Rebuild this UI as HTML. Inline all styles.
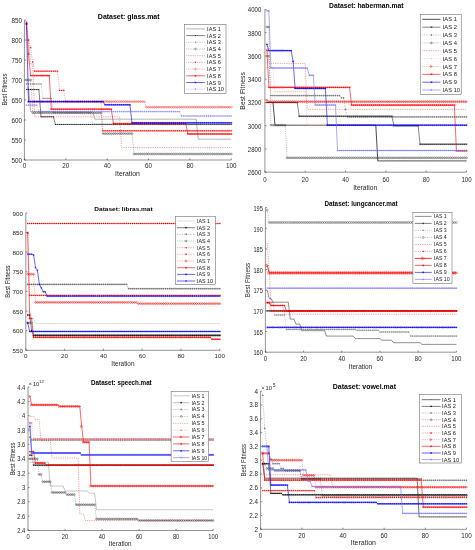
<!DOCTYPE html>
<html><head><meta charset="utf-8"><title>IAS convergence</title>
<style>
html,body{margin:0;padding:0;background:#fff;}
svg{display:block;font-family:"Liberation Sans",sans-serif;}
</style></head>
<body>
<svg width="475" height="550" viewBox="0 0 475 550">
<rect width="475" height="550" fill="#fff"/>
<defs><filter id="bl" x="0" y="0" width="475" height="550" filterUnits="userSpaceOnUse"><feGaussianBlur stdDeviation="0.35"/></filter><marker id="m0" markerUnits="userSpaceOnUse" markerWidth="4.8" markerHeight="4.8" viewBox="-2.4 -2.4 4.8 4.8" refX="0" refY="0" overflow="visible"><circle cx="0" cy="0" r="0.52" fill="#000000"/></marker><marker id="m1" markerUnits="userSpaceOnUse" markerWidth="5.2" markerHeight="5.2" viewBox="-2.6 -2.6 5.2 5.2" refX="0" refY="0" overflow="visible"><path d="M-0.8 0H0.8M0 -0.8V0.8" stroke="#606060" stroke-width="0.45"/></marker><marker id="m2" markerUnits="userSpaceOnUse" markerWidth="5.6" markerHeight="5.6" viewBox="-2.8 -2.8 5.6 5.6" refX="0" refY="0" overflow="visible"><circle cx="0" cy="0" r="0.9" fill="none" stroke="#383838" stroke-width="0.45"/></marker><marker id="m3" markerUnits="userSpaceOnUse" markerWidth="5.2" markerHeight="5.2" viewBox="-2.6 -2.6 5.2 5.2" refX="0" refY="0" overflow="visible"><path d="M-0.8 0H0.8M0 -0.8V0.8M-0.56 -0.56L0.56 0.56M-0.56 0.56L0.56 -0.56" stroke="#ff0000" stroke-width="0.45"/></marker><marker id="m4" markerUnits="userSpaceOnUse" markerWidth="5.6" markerHeight="5.6" viewBox="-2.8 -2.8 5.6 5.6" refX="0" refY="0" overflow="visible"><circle cx="0" cy="0" r="0.9" fill="none" stroke="#ff3030" stroke-width="0.45"/></marker><marker id="m5" markerUnits="userSpaceOnUse" markerWidth="5.6" markerHeight="5.6" viewBox="-2.8 -2.8 5.6 5.6" refX="0" refY="0" overflow="visible"><path d="M-0.9 0H0.9M0 -0.9V0.9M-0.63 -0.63L0.63 0.63M-0.63 0.63L0.63 -0.63" stroke="#ff0000" stroke-width="0.45"/></marker><marker id="m6" markerUnits="userSpaceOnUse" markerWidth="5.6" markerHeight="5.6" viewBox="-2.8 -2.8 5.6 5.6" refX="0" refY="0" overflow="visible"><path d="M-0.9 0H0.9M0 -0.9V0.9M-0.63 -0.63L0.63 0.63M-0.63 0.63L0.63 -0.63" stroke="#0000ff" stroke-width="0.45"/></marker><marker id="m7" markerUnits="userSpaceOnUse" markerWidth="5.6" markerHeight="5.6" viewBox="-2.8 -2.8 5.6 5.6" refX="0" refY="0" overflow="visible"><path d="M-0.9 0H0.9M0 -0.9V0.9" stroke="#7070ff" stroke-width="0.45"/></marker><marker id="m8" markerUnits="userSpaceOnUse" markerWidth="5.6" markerHeight="5.6" viewBox="-2.8 -2.8 5.6 5.6" refX="0" refY="0" overflow="visible"><path d="M-0.9 0H0.9M0 -0.9V0.9M-0.63 -0.63L0.63 0.63M-0.63 0.63L0.63 -0.63" stroke="#333333" stroke-width="0.45"/></marker><marker id="m9" markerUnits="userSpaceOnUse" markerWidth="5.6" markerHeight="5.6" viewBox="-2.8 -2.8 5.6 5.6" refX="0" refY="0" overflow="visible"><path d="M-0.9 0H0.9M0 -0.9V0.9" stroke="#444444" stroke-width="0.45"/></marker><marker id="m10" markerUnits="userSpaceOnUse" markerWidth="4.4" markerHeight="4.4" viewBox="-2.2 -2.2 4.4 4.4" refX="0" refY="0" overflow="visible"><circle cx="0" cy="0" r="0.45" fill="#ff8080"/></marker><marker id="m11" markerUnits="userSpaceOnUse" markerWidth="6" markerHeight="6" viewBox="-3 -3 6 6" refX="0" refY="0" overflow="visible"><path d="M-1 -1L1 0L-1 1Z" fill="none" stroke="#ff0000" stroke-width="0.45"/></marker><marker id="m12" markerUnits="userSpaceOnUse" markerWidth="5.2" markerHeight="5.2" viewBox="-2.6 -2.6 5.2 5.2" refX="0" refY="0" overflow="visible"><path d="M-0.8 0H0.8M0 -0.8V0.8M-0.56 -0.56L0.56 0.56M-0.56 0.56L0.56 -0.56" stroke="#000000" stroke-width="0.45"/></marker><marker id="m13" markerUnits="userSpaceOnUse" markerWidth="5.6" markerHeight="5.6" viewBox="-2.8 -2.8 5.6 5.6" refX="0" refY="0" overflow="visible"><path d="M-0.9 0H0.9M0 -0.9V0.9" stroke="#333333" stroke-width="0.45"/></marker><marker id="m14" markerUnits="userSpaceOnUse" markerWidth="6" markerHeight="6" viewBox="-3 -3 6 6" refX="0" refY="0" overflow="visible"><circle cx="0" cy="0" r="0.75" fill="#ff0000"/></marker><marker id="m15" markerUnits="userSpaceOnUse" markerWidth="5.6" markerHeight="5.6" viewBox="-2.8 -2.8 5.6 5.6" refX="0" refY="0" overflow="visible"><circle cx="0" cy="0" r="0.9" fill="none" stroke="#ff0000" stroke-width="0.45"/></marker><marker id="m16" markerUnits="userSpaceOnUse" markerWidth="5.6" markerHeight="5.6" viewBox="-2.8 -2.8 5.6 5.6" refX="0" refY="0" overflow="visible"><path d="M-0.9 0H0.9M0 -0.9V0.9" stroke="#0000ff" stroke-width="0.45"/></marker><marker id="m17" markerUnits="userSpaceOnUse" markerWidth="5.6" markerHeight="5.6" viewBox="-2.8 -2.8 5.6 5.6" refX="0" refY="0" overflow="visible"><path d="M-0.9 0H0.9M0 -0.9V0.9" stroke="#000000" stroke-width="0.45"/></marker><marker id="m18" markerUnits="userSpaceOnUse" markerWidth="6" markerHeight="6" viewBox="-3 -3 6 6" refX="0" refY="0" overflow="visible"><circle cx="0" cy="0" r="1" fill="none" stroke="#555555" stroke-width="0.45"/></marker><marker id="m19" markerUnits="userSpaceOnUse" markerWidth="7.6" markerHeight="7.6" viewBox="-3.8 -3.8 7.6 7.6" refX="0" refY="0" overflow="visible"><path d="M-1.4 -1.4L1.4 0L-1.4 1.4Z" fill="none" stroke="#ff0000" stroke-width="0.45"/></marker><marker id="m20" markerUnits="userSpaceOnUse" markerWidth="4.8" markerHeight="4.8" viewBox="-2.4 -2.4 4.8 4.8" refX="0" refY="0" overflow="visible"><path d="M-0.7 0H0.7M0 -0.7V0.7M-0.49 -0.49L0.49 0.49M-0.49 0.49L0.49 -0.49" stroke="#ff6060" stroke-width="0.45"/></marker><marker id="m21" markerUnits="userSpaceOnUse" markerWidth="4" markerHeight="4" viewBox="-2 -2 4 4" refX="0" refY="0" overflow="visible"><circle cx="0" cy="0" r="0.38" fill="#333333"/></marker></defs>
<g filter="url(#bl)"><rect width="475" height="550" fill="#fff"/><g><path d="M26.5 88 28.5 88 30.6 111.6 32.7 111.6 34.7 111.6 36.8 111.6 38.9 111.6 41 111.6 43 111.6 45.1 111.6 47.2 111.6 49.2 111.6 51.3 111.6 53.4 111.6 55.4 111.6 57.5 111.6 59.6 111.6 61.6 111.6 63.7 111.6 65.8 111.6 67.8 111.6 69.9 111.6 72 111.6 74.1 111.6 76.1 111.6 78.2 111.6 80.3 111.6 82.3 111.6 84.4 111.6 86.5 111.6 88.5 111.6 90.6 111.6 92.7 111.6 94.7 119.2 96.8 119.2 98.9 119.2 101 119.2 103 119.2 105.1 119.2 107.2 119.2 109.2 119.2 111.3 119.2 113.4 119.2 115.4 119.2 117.5 119.2 119.6 119.2 121.6 119.2 123.7 119.2 125.8 119.2 127.8 119.2 129.9 119.2 132 119.2 134.1 119.2 136.1 119.2 138.2 119.2 140.3 119.2 142.3 119.2 144.4 119.2 146.5 119.2 148.5 119.2 150.6 119.2 152.7 119.2 154.7 119.2 156.8 119.2 158.9 119.2 161 119.2 163 119.2 165.1 119.2 167.2 119.2 169.2 119.2 171.3 119.2 173.4 119.2 175.4 119.2 177.5 119.2 179.6 119.2 181.6 119.2 183.7 119.2 185.8 119.2 187.9 119.2 189.9 119.2 192 119.2 194.1 119.2 196.1 119.2 198.2 139.2 200.3 139.2 202.3 139.2 204.4 139.2 206.5 139.2 208.5 139.2 210.6 139.2 212.7 139.2 214.7 139.2 216.8 139.2 218.9 139.2 221 139.2 223 139.2 225.1 139.2 227.2 139.2 229.2 139.2 231.3 139.2" fill="none" stroke="#a0a0a0" stroke-width="0.8"/><path d="M26.5 89.6 28.5 89.6 30.6 89.6 32.7 89.6 34.7 89.6 36.8 89.6 38.9 89.6 41 116.8 43 116.8 45.1 116.8 47.2 116.8 49.2 116.8 51.3 116.8 53.4 116.8 55.4 124.4 57.5 124.4 59.6 124.4 61.6 124.4 63.7 124.4 65.8 124.4 67.8 124.4 69.9 124.4 72 124.4 74.1 124.4 76.1 124.4 78.2 124.4 80.3 124.4 82.3 124.4 84.4 124.4 86.5 124.4 88.5 124.4 90.6 124.4 92.7 124.4 94.7 124.4 96.8 124.4 98.9 124.4 101 124.4 103 124.4 105.1 124.4 107.2 124.4 109.2 124.4 111.3 124.4 113.4 124.4 115.4 124.4 117.5 124.4 119.6 124.4 121.6 124.4 123.7 124.4 125.8 124.4 127.8 124.4 129.9 124.4 132 124.4 134.1 124.4 136.1 124.4 138.2 124.4 140.3 124.4 142.3 124.4 144.4 124.4 146.5 124.4 148.5 124.4 150.6 124.4 152.7 124.4 154.7 124.4 156.8 124.4 158.9 124.4 161 124.4 163 124.4 165.1 124.4 167.2 124.4 169.2 124.4 171.3 124.4 173.4 124.4 175.4 124.4 177.5 124.4 179.6 124.4 181.6 124.4 183.7 124.4 185.8 124.4 187.9 124.4 189.9 124.4 192 124.4 194.1 124.4 196.1 124.4 198.2 124.4 200.3 124.4 202.3 124.4 204.4 124.4 206.5 124.4 208.5 124.4 210.6 124.4 212.7 124.4 214.7 124.4 216.8 124.4 218.9 124.4 221 124.4 223 124.4 225.1 124.4 227.2 124.4 229.2 124.4 231.3 124.4" fill="none" stroke="#000000" stroke-width="0.5" marker-start="url(#m0)" marker-mid="url(#m0)" marker-end="url(#m0)"/><path d="M26.5 84 28.5 84 30.6 84 32.7 84 34.7 84 36.8 84 38.9 84 41 84 43 98.4 45.1 98.4 47.2 98.4 49.2 98.4 51.3 98.4 53.4 112.8 55.4 112.8 57.5 112.8 59.6 112.8 61.6 112.8 63.7 112.8 65.8 112.8 67.8 112.8 69.9 112.8 72 112.8 74.1 112.8 76.1 112.8 78.2 112.8 80.3 112.8 82.3 112.8 84.4 112.8 86.5 112.8 88.5 112.8 90.6 112.8 92.7 124.4 94.7 124.4 96.8 124.4 98.9 124.4 101 124.4 103 124.4 105.1 124.4 107.2 124.4 109.2 124.4 111.3 124.4 113.4 124.4 115.4 124.4 117.5 124.4 119.6 124.4 121.6 124.4 123.7 124.4 125.8 124.4 127.8 124.4 129.9 124.4 132 124.4 134.1 124.4 136.1 124.4 138.2 124.4 140.3 124.4 142.3 124.4 144.4 124.4 146.5 124.4 148.5 124.4 150.6 124.4 152.7 124.4 154.7 124.4 156.8 124.4 158.9 124.4 161 124.4 163 124.4 165.1 124.4 167.2 124.4 169.2 124.4 171.3 124.4 173.4 124.4 175.4 124.4 177.5 124.4 179.6 124.4 181.6 124.4 183.7 124.4 185.8 124.4 187.9 124.4 189.9 124.4 192 124.4 194.1 124.4 196.1 124.4 198.2 124.4 200.3 124.4 202.3 124.4 204.4 124.4 206.5 124.4 208.5 124.4 210.6 124.4 212.7 124.4 214.7 124.4 216.8 124.4 218.9 124.4 221 124.4 223 124.4 225.1 124.4 227.2 124.4 229.2 124.4 231.3 124.4" fill="none" stroke="#606060" stroke-width="0.5" stroke-dasharray="0.6 1.2" marker-start="url(#m1)" marker-mid="url(#m1)" marker-end="url(#m1)"/><path d="M26.5 80 28.5 80 30.6 80 32.7 112.8 34.7 112.8 36.8 112.8 38.9 112.8 41 112.8 43 112.8 45.1 112.8 47.2 112.8 49.2 112.8 51.3 112.8 53.4 112.8 55.4 112.8 57.5 112.8 59.6 112.8 61.6 112.8 63.7 112.8 65.8 112.8 67.8 112.8 69.9 112.8 72 112.8 74.1 112.8 76.1 112.8 78.2 112.8 80.3 112.8 82.3 112.8 84.4 112.8 86.5 112.8 88.5 112.8 90.6 112.8 92.7 112.8 94.7 112.8 96.8 112.8 98.9 112.8 101 112.8 103 133.6 105.1 133.6 107.2 133.6 109.2 133.6 111.3 133.6 113.4 133.6 115.4 133.6 117.5 133.6 119.6 133.6 121.6 133.6 123.7 133.6 125.8 133.6 127.8 133.6 129.9 133.6 132 133.6 134.1 154 136.1 154 138.2 154 140.3 154 142.3 154 144.4 154 146.5 154 148.5 154 150.6 154 152.7 154 154.7 154 156.8 154 158.9 154 161 154 163 154 165.1 154 167.2 154 169.2 154 171.3 154 173.4 154 175.4 154 177.5 154 179.6 154 181.6 154 183.7 154 185.8 154 187.9 154 189.9 154 192 154 194.1 154 196.1 154 198.2 154 200.3 154 202.3 154 204.4 154 206.5 154 208.5 154 210.6 154 212.7 154 214.7 154 216.8 154 218.9 154 221 154 223 154 225.1 154 227.2 154 229.2 154 231.3 154" fill="none" stroke="#383838" stroke-width="0.5" stroke-dasharray="0.6 1.2" marker-start="url(#m2)" marker-mid="url(#m2)" marker-end="url(#m2)"/><path d="M26.5 40 28.5 40 30.6 64 32.7 64 34.7 116.8 36.8 116.8 38.9 116.8 41 116.8 43 116.8 45.1 116.8 47.2 116.8 49.2 116.8 51.3 116.8 53.4 116.8 55.4 116.8 57.5 116.8 59.6 116.8 61.6 116.8 63.7 116.8 65.8 116.8 67.8 116.8 69.9 116.8 72 116.8 74.1 116.8 76.1 116.8 78.2 116.8 80.3 116.8 82.3 116.8 84.4 116.8 86.5 116.8 88.5 116.8 90.6 116.8 92.7 116.8 94.7 116.8 96.8 116.8 98.9 116.8 101 116.8 103 116.8 105.1 116.8 107.2 116.8 109.2 116.8 111.3 116.8 113.4 116.8 115.4 116.8 117.5 116.8 119.6 116.8 121.6 147.6 123.7 147.6 125.8 147.6 127.8 147.6 129.9 147.6 132 147.6 134.1 147.6 136.1 147.6 138.2 147.6 140.3 147.6 142.3 147.6 144.4 147.6 146.5 147.6 148.5 147.6 150.6 147.6 152.7 147.6 154.7 147.6 156.8 147.6 158.9 147.6 161 147.6 163 147.6 165.1 147.6 167.2 147.6 169.2 147.6 171.3 147.6 173.4 147.6 175.4 147.6 177.5 147.6 179.6 147.6 181.6 147.6 183.7 147.6 185.8 147.6 187.9 147.6 189.9 147.6 192 147.6 194.1 147.6 196.1 147.6 198.2 147.6 200.3 147.6 202.3 147.6 204.4 147.6 206.5 147.6 208.5 147.6 210.6 147.6 212.7 147.6 214.7 147.6 216.8 147.6 218.9 147.6 221 147.6 223 147.6 225.1 147.6 227.2 147.6 229.2 147.6 231.3 147.6" fill="none" stroke="#ff0000" stroke-width="0.6" stroke-dasharray="0.6 1.2"/><path d="M26.5 22 28.5 40 30.6 47.6 32.7 62 34.7 71.2 36.8 71.2 38.9 71.2 41 71.2 43 71.2 45.1 71.2 47.2 71.2 49.2 71.2 51.3 71.2 53.4 71.2 55.4 71.2 57.5 71.2 59.6 90.4 61.6 90.4 63.7 90.4 65.8 101.6 67.8 101.6 69.9 101.6 72 101.6 74.1 101.6 76.1 101.6 78.2 101.6 80.3 101.6 82.3 101.6 84.4 101.6 86.5 101.6 88.5 101.6 90.6 101.6 92.7 101.6 94.7 101.6 96.8 101.6 98.9 101.6 101 101.6 103 130.8 105.1 130.8 107.2 130.8 109.2 130.8 111.3 130.8 113.4 130.8 115.4 130.8 117.5 130.8 119.6 130.8 121.6 130.8 123.7 130.8 125.8 130.8 127.8 130.8 129.9 130.8 132 130.8 134.1 130.8 136.1 130.8 138.2 130.8 140.3 130.8 142.3 130.8 144.4 130.8 146.5 130.8 148.5 130.8 150.6 130.8 152.7 130.8 154.7 130.8 156.8 130.8 158.9 130.8 161 130.8 163 130.8 165.1 130.8 167.2 130.8 169.2 130.8 171.3 130.8 173.4 130.8 175.4 130.8 177.5 130.8 179.6 130.8 181.6 130.8 183.7 130.8 185.8 130.8 187.9 130.8 189.9 130.8 192 130.8 194.1 130.8 196.1 130.8 198.2 130.8 200.3 130.8 202.3 130.8 204.4 130.8 206.5 130.8 208.5 130.8 210.6 130.8 212.7 130.8 214.7 130.8 216.8 130.8 218.9 130.8 221 130.8 223 130.8 225.1 130.8 227.2 130.8 229.2 130.8 231.3 130.8" fill="none" stroke="#ff0000" stroke-width="0.5" stroke-dasharray="0.6 1.2" marker-start="url(#m3)" marker-mid="url(#m3)" marker-end="url(#m3)"/><path d="M26.5 24 28.5 101.6 30.6 101.6 32.7 101.6 34.7 101.6 36.8 101.6 38.9 101.6 41 101.6 43 101.6 45.1 101.6 47.2 101.6 49.2 101.6 51.3 101.6 53.4 101.6 55.4 101.6 57.5 101.6 59.6 101.6 61.6 101.6 63.7 101.6 65.8 101.6 67.8 101.6 69.9 101.6 72 101.6 74.1 101.6 76.1 101.6 78.2 101.6 80.3 101.6 82.3 101.6 84.4 101.6 86.5 101.6 88.5 101.6 90.6 101.6 92.7 101.6 94.7 101.6 96.8 101.6 98.9 101.6 101 101.6 103 101.6 105.1 101.6 107.2 101.6 109.2 101.6 111.3 101.6 113.4 101.6 115.4 101.6 117.5 101.6 119.6 101.6 121.6 101.6 123.7 101.6 125.8 101.6 127.8 101.6 129.9 101.6 132 101.6 134.1 101.6 136.1 101.6 138.2 101.6 140.3 101.6 142.3 101.6 144.4 101.6 146.5 107.2 148.5 107.2 150.6 107.2 152.7 107.2 154.7 107.2 156.8 107.2 158.9 107.2 161 107.2 163 107.2 165.1 107.2 167.2 107.2 169.2 107.2 171.3 107.2 173.4 107.2 175.4 107.2 177.5 107.2 179.6 107.2 181.6 107.2 183.7 107.2 185.8 107.2 187.9 107.2 189.9 107.2 192 107.2 194.1 107.2 196.1 107.2 198.2 107.2 200.3 107.2 202.3 107.2 204.4 107.2 206.5 107.2 208.5 107.2 210.6 107.2 212.7 107.2 214.7 107.2 216.8 107.2 218.9 107.2 221 107.2 223 107.2 225.1 107.2 227.2 107.2 229.2 107.2 231.3 107.2" fill="none" stroke="#ff3030" stroke-width="0.6" stroke-dasharray="0.6 1.2" marker-start="url(#m4)" marker-mid="url(#m4)" marker-end="url(#m4)"/><path d="M26.5 23.2 28.5 54 30.6 75.6 32.7 75.6 34.7 75.6 36.8 75.6 38.9 75.6 41 75.6 43 75.6 45.1 75.6 47.2 75.6 49.2 75.6 51.3 109.2 53.4 109.2 55.4 109.2 57.5 109.2 59.6 109.2 61.6 109.2 63.7 109.2 65.8 109.2 67.8 109.2 69.9 109.2 72 109.2 74.1 109.2 76.1 109.2 78.2 109.2 80.3 109.2 82.3 109.2 84.4 109.2 86.5 109.2 88.5 109.2 90.6 109.2 92.7 109.2 94.7 109.2 96.8 109.2 98.9 109.2 101 109.2 103 109.2 105.1 109.2 107.2 109.2 109.2 109.2 111.3 109.2 113.4 123.6 115.4 123.6 117.5 123.6 119.6 123.6 121.6 123.6 123.7 123.6 125.8 123.6 127.8 123.6 129.9 123.6 132 123.6 134.1 123.6 136.1 123.6 138.2 123.6 140.3 123.6 142.3 123.6 144.4 123.6 146.5 123.6 148.5 123.6 150.6 123.6 152.7 123.6 154.7 123.6 156.8 123.6 158.9 123.6 161 123.6 163 123.6 165.1 123.6 167.2 123.6 169.2 123.6 171.3 123.6 173.4 123.6 175.4 123.6 177.5 123.6 179.6 123.6 181.6 123.6 183.7 123.6 185.8 123.6 187.9 134 189.9 134 192 134 194.1 134 196.1 134 198.2 134 200.3 134 202.3 134 204.4 134 206.5 134 208.5 134 210.6 134 212.7 134 214.7 134 216.8 134 218.9 134 221 134 223 134 225.1 134 227.2 134 229.2 134 231.3 134" fill="none" stroke="#ff0000" stroke-width="0.6" marker-start="url(#m5)" marker-mid="url(#m5)" marker-end="url(#m5)"/><path d="M26.5 24 28.5 101.6 30.6 101.6 32.7 101.6 34.7 101.6 36.8 101.6 38.9 101.6 41 101.6 43 101.6 45.1 101.6 47.2 101.6 49.2 101.6 51.3 101.6 53.4 101.6 55.4 101.6 57.5 101.6 59.6 101.6 61.6 101.6 63.7 101.6 65.8 101.6 67.8 101.6 69.9 101.6 72 101.6 74.1 101.6 76.1 101.6 78.2 101.6 80.3 101.6 82.3 101.6 84.4 101.6 86.5 101.6 88.5 101.6 90.6 101.6 92.7 101.6 94.7 101.6 96.8 101.6 98.9 101.6 101 101.6 103 101.6 105.1 104.8 107.2 104.8 109.2 104.8 111.3 104.8 113.4 104.8 115.4 104.8 117.5 104.8 119.6 104.8 121.6 104.8 123.7 104.8 125.8 104.8 127.8 104.8 129.9 104.8 132 122.8 134.1 122.8 136.1 122.8 138.2 122.8 140.3 122.8 142.3 122.8 144.4 122.8 146.5 122.8 148.5 122.8 150.6 122.8 152.7 122.8 154.7 122.8 156.8 122.8 158.9 122.8 161 122.8 163 122.8 165.1 122.8 167.2 122.8 169.2 122.8 171.3 122.8 173.4 122.8 175.4 122.8 177.5 122.8 179.6 122.8 181.6 122.8 183.7 122.8 185.8 122.8 187.9 122.8 189.9 122.8 192 122.8 194.1 122.8 196.1 122.8 198.2 122.8 200.3 122.8 202.3 122.8 204.4 122.8 206.5 122.8 208.5 122.8 210.6 122.8 212.7 122.8 214.7 122.8 216.8 122.8 218.9 122.8 221 122.8 223 122.8 225.1 122.8 227.2 122.8 229.2 122.8 231.3 122.8" fill="none" stroke="#0000ff" stroke-width="0.6" marker-start="url(#m6)" marker-mid="url(#m6)" marker-end="url(#m6)"/><path d="M26.5 105.2 28.5 105.2 30.6 105.2 32.7 105.2 34.7 105.2 36.8 105.2 38.9 111.6 41 111.6 43 111.6 45.1 111.6 47.2 111.6 49.2 111.6 51.3 111.6 53.4 111.6 55.4 111.6 57.5 111.6 59.6 111.6 61.6 111.6 63.7 111.6 65.8 111.6 67.8 111.6 69.9 111.6 72 111.6 74.1 111.6 76.1 111.6 78.2 111.6 80.3 111.6 82.3 111.6 84.4 111.6 86.5 111.6 88.5 111.6 90.6 111.6 92.7 111.6 94.7 111.6 96.8 111.6 98.9 111.6 101 111.6 103 111.6 105.1 111.6 107.2 111.6 109.2 111.6 111.3 111.6 113.4 111.6 115.4 111.6 117.5 111.6 119.6 111.6 121.6 111.6 123.7 111.6 125.8 111.6 127.8 111.6 129.9 111.6 132 111.6 134.1 111.6 136.1 111.6 138.2 111.6 140.3 111.6 142.3 111.6 144.4 111.6 146.5 111.6 148.5 111.6 150.6 111.6 152.7 111.6 154.7 111.6 156.8 111.6 158.9 111.6 161 111.6 163 111.6 165.1 111.6 167.2 111.6 169.2 111.6 171.3 111.6 173.4 111.6 175.4 111.6 177.5 111.6 179.6 111.6 181.6 116 183.7 116 185.8 116 187.9 116 189.9 116 192 116 194.1 116 196.1 116 198.2 116 200.3 116 202.3 116 204.4 116 206.5 116 208.5 116 210.6 116 212.7 116 214.7 116 216.8 116 218.9 116 221 116 223 116 225.1 116 227.2 116 229.2 116 231.3 116" fill="none" stroke="#7070ff" stroke-width="0.6" stroke-dasharray="0.6 1.2" marker-start="url(#m7)" marker-mid="url(#m7)" marker-end="url(#m7)"/></g>
<path d="M24.4 20V160H231.3" fill="none" stroke="#262626" stroke-width="0.5"/><path d="M24.4 160h1.6M24.4 140h1.6M24.4 120h1.6M24.4 100h1.6M24.4 80h1.6M24.4 60h1.6M24.4 40h1.6M24.4 20h1.6M24.4 160v-1.6M65.8 160v-1.6M107.2 160v-1.6M148.5 160v-1.6M189.9 160v-1.6M231.3 160v-1.6" stroke="#262626" stroke-width="0.5"/>
<g fill="#262626"><text x="21.9" y="162.7" text-anchor="end" font-size="6.3">500</text><text x="21.9" y="142.7" text-anchor="end" font-size="6.3">550</text><text x="21.9" y="122.7" text-anchor="end" font-size="6.3">600</text><text x="21.9" y="102.7" text-anchor="end" font-size="6.3">650</text><text x="21.9" y="82.7" text-anchor="end" font-size="6.3">700</text><text x="21.9" y="62.7" text-anchor="end" font-size="6.3">750</text><text x="21.9" y="42.7" text-anchor="end" font-size="6.3">800</text><text x="21.9" y="22.7" text-anchor="end" font-size="6.3">850</text><text x="24.4" y="168.2" text-anchor="middle" font-size="6.3">0</text><text x="65.8" y="168.2" text-anchor="middle" font-size="6.3">20</text><text x="107.2" y="168.2" text-anchor="middle" font-size="6.3">40</text><text x="148.5" y="168.2" text-anchor="middle" font-size="6.3">60</text><text x="189.9" y="168.2" text-anchor="middle" font-size="6.3">80</text><text x="231.3" y="168.2" text-anchor="middle" font-size="6.3">100</text></g>
<text transform="translate(127.5 175.5) scale(1 1.0)" text-anchor="middle" font-size="6.8" fill="#262626" textLength="24.8" lengthAdjust="spacingAndGlyphs">Iteration</text>
<text transform="translate(4.8 89.6) rotate(-90)" x="0" y="2.3" text-anchor="middle" font-size="6.6" fill="#262626" textLength="31.9" lengthAdjust="spacingAndGlyphs">Best Fitness</text>
<text transform="translate(128.7 18.8) scale(1 1.0)" text-anchor="middle" font-size="7.0" font-weight="bold" fill="#000" textLength="61.7" lengthAdjust="spacingAndGlyphs">Dataset: glass.mat</text>
<g><rect x="184.4" y="24.3" width="41.6" height="69.2" fill="#fff" stroke="#555" stroke-width="0.5"/><path d="M186.2 28.9H204.8" stroke="#a0a0a0" stroke-width="0.8"/><text x="207.1" y="30.9" font-size="5.6" fill="#1a1a1a">IAS 1</text><path d="M186.2 35.6H204.8" stroke="#000000" stroke-width="0.5"/><path d="M195.5 35.6h0.01" stroke="none" fill="none" marker-start="url(#m0)"/><text x="207.1" y="37.6" font-size="5.6" fill="#1a1a1a">IAS 2</text><path d="M186.2 42.3H204.8" stroke="#606060" stroke-width="0.5" stroke-dasharray="0.6 1.2"/><path d="M195.5 42.3h0.01" stroke="none" fill="none" marker-start="url(#m1)"/><text x="207.1" y="44.3" font-size="5.6" fill="#1a1a1a">IAS 3</text><path d="M186.2 49H204.8" stroke="#383838" stroke-width="0.5" stroke-dasharray="0.6 1.2"/><path d="M195.5 49h0.01" stroke="none" fill="none" marker-start="url(#m2)"/><text x="207.1" y="51" font-size="5.6" fill="#1a1a1a">IAS 4</text><path d="M186.2 55.7H204.8" stroke="#ff0000" stroke-width="0.6" stroke-dasharray="0.6 1.2"/><text x="207.1" y="57.7" font-size="5.6" fill="#1a1a1a">IAS 5</text><path d="M186.2 62.4H204.8" stroke="#ff0000" stroke-width="0.5" stroke-dasharray="0.6 1.2"/><path d="M195.5 62.4h0.01" stroke="none" fill="none" marker-start="url(#m3)"/><text x="207.1" y="64.4" font-size="5.6" fill="#1a1a1a">IAS 6</text><path d="M186.2 69.1H204.8" stroke="#ff3030" stroke-width="0.6" stroke-dasharray="0.6 1.2"/><path d="M195.5 69.1h0.01" stroke="none" fill="none" marker-start="url(#m4)"/><text x="207.1" y="71.1" font-size="5.6" fill="#1a1a1a">IAS 7</text><path d="M186.2 75.8H204.8" stroke="#ff0000" stroke-width="0.6"/><path d="M195.5 75.8h0.01" stroke="none" fill="none" marker-start="url(#m5)"/><text x="207.1" y="77.8" font-size="5.6" fill="#1a1a1a">IAS 8</text><path d="M186.2 82.5H204.8" stroke="#0000ff" stroke-width="0.6"/><path d="M195.5 82.5h0.01" stroke="none" fill="none" marker-start="url(#m6)"/><text x="207.1" y="84.5" font-size="5.6" fill="#1a1a1a">IAS 9</text><path d="M186.2 89.2H204.8" stroke="#7070ff" stroke-width="0.6" stroke-dasharray="0.6 1.2"/><path d="M195.5 89.2h0.01" stroke="none" fill="none" marker-start="url(#m7)"/><text x="207.1" y="91.2" font-size="5.6" fill="#1a1a1a">IAS 10</text></g>
<g><path d="M266.9 102.5 268.9 102.5 270.9 102.5 273 102.5 275 125.2 277 125.2 279 125.2 281 125.2 283 125.2 285.1 125.2 287.1 125.2 289.1 125.2 291.1 125.2 293.1 125.2 295.1 125.2 297.2 125.2 299.2 125.2 301.2 125.2 303.2 125.2 305.2 125.2 307.2 125.2 309.3 125.2 311.3 125.2 313.3 125.2 315.3 125.2 317.3 125.2 319.3 125.2 321.3 125.2 323.4 125.2 325.4 125.2 327.4 125.2 329.4 125.2 331.4 125.2 333.4 125.2 335.5 125.2 337.5 125.2 339.5 125.2 341.5 125.2 343.5 125.2 345.5 125.2 347.6 125.2 349.6 125.2 351.6 125.2 353.6 125.2 355.6 125.2 357.6 125.2 359.7 125.2 361.7 125.2 363.7 125.2 365.7 125.2 367.7 125.2 369.7 125.2 371.7 125.2 373.8 125.2 375.8 125.2 377.8 160.9 379.8 160.9 381.8 160.9 383.8 160.9 385.9 160.9 387.9 160.9 389.9 160.9 391.9 160.9 393.9 160.9 395.9 160.9 398 160.9 400 160.9 402 160.9 404 160.9 406 160.9 408 160.9 410.1 160.9 412.1 160.9 414.1 160.9 416.1 160.9 418.1 160.9 420.1 160.9 422.1 160.9 424.2 160.9 426.2 160.9 428.2 160.9 430.2 160.9 432.2 160.9 434.2 160.9 436.3 160.9 438.3 160.9 440.3 160.9 442.3 160.9 444.3 160.9 446.3 160.9 448.4 160.9 450.4 160.9 452.4 160.9 454.4 160.9 456.4 160.9 458.4 160.9 460.5 160.9 462.5 160.9 464.5 160.9 466.5 160.9" fill="none" stroke="#000000" stroke-width="0.7"/><path d="M266.9 102.5 268.9 102.5 270.9 102.5 273 102.5 275 102.5 277 102.5 279 102.5 281 102.5 283 102.5 285.1 102.5 287.1 102.5 289.1 102.5 291.1 102.5 293.1 102.5 295.1 102.5 297.2 102.5 299.2 116.3 301.2 116.3 303.2 116.3 305.2 116.3 307.2 116.3 309.3 116.3 311.3 116.3 313.3 116.3 315.3 116.3 317.3 116.3 319.3 116.3 321.3 116.3 323.4 116.3 325.4 116.3 327.4 116.3 329.4 116.3 331.4 116.3 333.4 116.3 335.5 116.3 337.5 116.3 339.5 116.3 341.5 116.3 343.5 116.3 345.5 116.3 347.6 116.3 349.6 116.3 351.6 116.3 353.6 116.3 355.6 116.3 357.6 116.3 359.7 116.3 361.7 116.3 363.7 116.3 365.7 116.3 367.7 116.3 369.7 116.3 371.7 116.3 373.8 116.3 375.8 116.3 377.8 116.3 379.8 116.3 381.8 116.3 383.8 116.3 385.9 116.3 387.9 116.3 389.9 116.3 391.9 116.3 393.9 125.7 395.9 125.7 398 125.7 400 125.7 402 125.7 404 125.7 406 125.7 408 125.7 410.1 125.7 412.1 125.7 414.1 125.7 416.1 125.7 418.1 125.7 420.1 144.3 422.1 144.3 424.2 144.3 426.2 144.3 428.2 144.3 430.2 144.3 432.2 144.3 434.2 144.3 436.3 144.3 438.3 144.3 440.3 144.3 442.3 144.3 444.3 144.3 446.3 144.3 448.4 144.3 450.4 144.3 452.4 144.3 454.4 144.3 456.4 144.3 458.4 144.3 460.5 144.3 462.5 144.3 464.5 144.3 466.5 144.3" fill="none" stroke="#333333" stroke-width="0.6" marker-start="url(#m8)" marker-mid="url(#m8)" marker-end="url(#m8)"/><path d="M266.9 56 268.9 56 270.9 95.6 273 95.6 275 95.6 277 95.6 279 95.6 281 95.6 283 95.6 285.1 95.6 287.1 95.6 289.1 95.6 291.1 95.6 293.1 95.6 295.1 95.6 297.2 95.6 299.2 95.6 301.2 95.6 303.2 95.6 305.2 95.6 307.2 95.6 309.3 95.6 311.3 95.6 313.3 95.6 315.3 95.6 317.3 95.6 319.3 95.6 321.3 95.6 323.4 95.6 325.4 95.6 327.4 95.6 329.4 95.6 331.4 95.6 333.4 95.6 335.5 95.6 337.5 95.6 339.5 95.6 341.5 97.8 343.5 97.8 345.5 109.4 347.6 116.9 349.6 116.9 351.6 116.9 353.6 116.9 355.6 116.9 357.6 116.9 359.7 116.9 361.7 116.9 363.7 116.9 365.7 116.9 367.7 116.9 369.7 116.9 371.7 116.9 373.8 116.9 375.8 116.9 377.8 116.9 379.8 116.9 381.8 116.9 383.8 116.9 385.9 116.9 387.9 116.9 389.9 116.9 391.9 116.9 393.9 116.9 395.9 116.9 398 116.9 400 116.9 402 116.9 404 116.9 406 116.9 408 116.9 410.1 116.9 412.1 116.9 414.1 116.9 416.1 116.9 418.1 116.9 420.1 116.9 422.1 116.9 424.2 116.9 426.2 116.9 428.2 116.9 430.2 116.9 432.2 116.9 434.2 116.9 436.3 116.9 438.3 116.9 440.3 116.9 442.3 116.9 444.3 116.9 446.3 116.9 448.4 116.9 450.4 116.9 452.4 116.9 454.4 116.9 456.4 116.9 458.4 116.9 460.5 116.9 462.5 116.9 464.5 116.9 466.5 116.9" fill="none" stroke="#444444" stroke-width="0.5" stroke-dasharray="0.6 1.2" marker-start="url(#m9)" marker-mid="url(#m9)" marker-end="url(#m9)"/><path d="M266.9 26.9 268.9 26.9 270.9 125.2 273 125.2 275 125.2 277 125.2 279 125.2 281 125.2 283 125.2 285.1 125.2 287.1 157.8 289.1 157.8 291.1 157.8 293.1 157.8 295.1 157.8 297.2 157.8 299.2 157.8 301.2 157.8 303.2 157.8 305.2 157.8 307.2 157.8 309.3 157.8 311.3 157.8 313.3 157.8 315.3 157.8 317.3 157.8 319.3 157.8 321.3 157.8 323.4 157.8 325.4 157.8 327.4 157.8 329.4 157.8 331.4 157.8 333.4 157.8 335.5 157.8 337.5 157.8 339.5 157.8 341.5 157.8 343.5 157.8 345.5 157.8 347.6 157.8 349.6 157.8 351.6 157.8 353.6 157.8 355.6 157.8 357.6 157.8 359.7 157.8 361.7 157.8 363.7 157.8 365.7 157.8 367.7 157.8 369.7 157.8 371.7 157.8 373.8 157.8 375.8 157.8 377.8 157.8 379.8 157.8 381.8 157.8 383.8 157.8 385.9 157.8 387.9 157.8 389.9 157.8 391.9 157.8 393.9 157.8 395.9 157.8 398 157.8 400 157.8 402 157.8 404 157.8 406 157.8 408 157.8 410.1 157.8 412.1 157.8 414.1 157.8 416.1 157.8 418.1 157.8 420.1 157.8 422.1 157.8 424.2 157.8 426.2 157.8 428.2 157.8 430.2 157.8 432.2 157.8 434.2 157.8 436.3 157.8 438.3 157.8 440.3 157.8 442.3 157.8 444.3 157.8 446.3 157.8 448.4 157.8 450.4 157.8 452.4 157.8 454.4 157.8 456.4 157.8 458.4 157.8 460.5 157.8 462.5 157.8 464.5 157.8 466.5 157.8" fill="none" stroke="#383838" stroke-width="0.5" stroke-dasharray="0.6 1.2" marker-start="url(#m2)" marker-mid="url(#m2)" marker-end="url(#m2)"/><path d="M266.9 44.4 268.9 63.4 270.9 63.4 273 63.4 275 63.4 277 63.4 279 63.4 281 63.4 283 63.4 285.1 63.4 287.1 63.4 289.1 63.4 291.1 63.4 293.1 63.4 295.1 63.4 297.2 63.4 299.2 63.4 301.2 63.4 303.2 63.4 305.2 63.4 307.2 109.4 309.3 109.4 311.3 109.4 313.3 109.4 315.3 109.4 317.3 109.4 319.3 109.4 321.3 109.4 323.4 109.4 325.4 109.4 327.4 109.4 329.4 109.4 331.4 109.4 333.4 109.4 335.5 109.4 337.5 109.4 339.5 109.4 341.5 109.4 343.5 109.4 345.5 109.4 347.6 109.4 349.6 109.4 351.6 109.4 353.6 109.4 355.6 109.4 357.6 109.4 359.7 109.4 361.7 109.4 363.7 109.4 365.7 109.4 367.7 109.4 369.7 109.4 371.7 109.4 373.8 109.4 375.8 109.4 377.8 109.4 379.8 109.4 381.8 109.4 383.8 109.4 385.9 109.4 387.9 109.4 389.9 109.4 391.9 109.4 393.9 109.4 395.9 109.4 398 109.4 400 109.4 402 109.4 404 109.4 406 109.4 408 109.4 410.1 109.4 412.1 109.4 414.1 109.4 416.1 109.4 418.1 109.4 420.1 109.4 422.1 109.4 424.2 109.4 426.2 109.4 428.2 109.4 430.2 109.4 432.2 109.4 434.2 109.4 436.3 109.4 438.3 109.4 440.3 109.4 442.3 109.4 444.3 109.4 446.3 109.4 448.4 109.4 450.4 109.4 452.4 109.4 454.4 109.4 456.4 109.4 458.4 109.4 460.5 109.4 462.5 109.4 464.5 109.4 466.5 109.4" fill="none" stroke="#ff0000" stroke-width="0.6" stroke-dasharray="0.6 1.2"/><path d="M266.9 67.6 268.9 67.6 270.9 67.6 273 67.6 275 91.8 277 91.8 279 91.8 281 91.8 283 91.8 285.1 91.8 287.1 91.8 289.1 91.8 291.1 91.8 293.1 91.8 295.1 91.8 297.2 91.8 299.2 91.8 301.2 91.8 303.2 91.8 305.2 91.8 307.2 125.2 309.3 125.2 311.3 125.2 313.3 125.2 315.3 125.2 317.3 125.2 319.3 125.2 321.3 125.2 323.4 125.2 325.4 125.2 327.4 125.2 329.4 125.2 331.4 125.2 333.4 125.2 335.5 125.2 337.5 125.2 339.5 125.2 341.5 125.2 343.5 125.2 345.5 125.2 347.6 125.2 349.6 125.2 351.6 125.2 353.6 125.2 355.6 125.2 357.6 125.2 359.7 125.2 361.7 125.2 363.7 125.2 365.7 125.2 367.7 125.2 369.7 125.2 371.7 125.2 373.8 125.2 375.8 125.2 377.8 125.2 379.8 125.2 381.8 125.2 383.8 125.2 385.9 125.2 387.9 125.2 389.9 125.2 391.9 125.2 393.9 125.2 395.9 125.2 398 125.2 400 125.2 402 125.2 404 125.2 406 125.2 408 125.2 410.1 125.2 412.1 125.2 414.1 125.2 416.1 125.2 418.1 125.2 420.1 125.2 422.1 125.2 424.2 125.2 426.2 125.2 428.2 125.2 430.2 125.2 432.2 125.2 434.2 125.2 436.3 125.2 438.3 125.2 440.3 125.2 442.3 125.2 444.3 125.2 446.3 125.2 448.4 125.2 450.4 125.2 452.4 125.2 454.4 125.2 456.4 125.2 458.4 125.2 460.5 125.2 462.5 125.2 464.5 125.2 466.5 125.2" fill="none" stroke="#ff8080" stroke-width="0.5" stroke-dasharray="0.6 1.2" marker-start="url(#m10)" marker-mid="url(#m10)" marker-end="url(#m10)"/><path d="M266.9 100.1 268.9 101.7 270.9 101.7 273 101.7 275 101.7 277 101.7 279 101.7 281 101.7 283 101.7 285.1 101.7 287.1 101.7 289.1 101.7 291.1 101.7 293.1 101.7 295.1 101.7 297.2 101.7 299.2 101.7 301.2 101.7 303.2 101.7 305.2 101.7 307.2 101.7 309.3 101.7 311.3 101.7 313.3 101.7 315.3 101.7 317.3 101.7 319.3 101.7 321.3 101.7 323.4 101.7 325.4 101.7 327.4 101.7 329.4 101.7 331.4 101.7 333.4 101.7 335.5 101.7 337.5 101.7 339.5 101.7 341.5 101.7 343.5 101.7 345.5 101.7 347.6 101.7 349.6 101.7 351.6 101.7 353.6 101.7 355.6 101.7 357.6 101.7 359.7 101.7 361.7 101.7 363.7 101.7 365.7 101.7 367.7 101.7 369.7 101.7 371.7 101.7 373.8 101.7 375.8 101.7 377.8 101.7 379.8 101.7 381.8 101.7 383.8 101.7 385.9 101.7 387.9 101.7 389.9 101.7 391.9 101.7 393.9 101.7 395.9 101.7 398 101.7 400 101.7 402 101.7 404 101.7 406 101.7 408 101.7 410.1 101.7 412.1 101.7 414.1 101.7 416.1 101.7 418.1 101.7 420.1 101.7 422.1 101.7 424.2 101.7 426.2 101.7 428.2 101.7 430.2 101.7 432.2 101.7 434.2 101.7 436.3 101.7 438.3 101.7 440.3 101.7 442.3 101.7 444.3 101.7 446.3 101.7 448.4 101.7 450.4 101.7 452.4 101.7 454.4 101.7 456.4 101.7 458.4 101.7 460.5 101.7 462.5 101.7 464.5 101.7 466.5 101.7" fill="none" stroke="#ff0000" stroke-width="0.5" stroke-dasharray="0.6 1.2" marker-start="url(#m11)" marker-mid="url(#m11)" marker-end="url(#m11)"/><path d="M266.9 50.2 268.9 87.4 270.9 87.4 273 87.4 275 87.4 277 87.4 279 87.4 281 87.4 283 87.4 285.1 87.4 287.1 87.4 289.1 87.4 291.1 87.4 293.1 87.4 295.1 87.4 297.2 87.4 299.2 87.4 301.2 87.4 303.2 87.4 305.2 87.4 307.2 87.4 309.3 87.4 311.3 87.4 313.3 87.4 315.3 87.4 317.3 87.4 319.3 87.4 321.3 87.4 323.4 87.4 325.4 87.4 327.4 87.4 329.4 87.4 331.4 87.4 333.4 87.4 335.5 87.4 337.5 87.4 339.5 87.4 341.5 87.4 343.5 87.4 345.5 87.4 347.6 87.4 349.6 87.4 351.6 105.1 353.6 105.1 355.6 105.1 357.6 105.1 359.7 105.1 361.7 105.1 363.7 105.1 365.7 105.1 367.7 105.1 369.7 105.1 371.7 105.1 373.8 105.1 375.8 105.1 377.8 105.1 379.8 105.1 381.8 105.1 383.8 105.1 385.9 105.1 387.9 105.1 389.9 105.1 391.9 105.1 393.9 105.1 395.9 105.1 398 105.1 400 105.1 402 105.1 404 105.1 406 105.1 408 105.1 410.1 105.1 412.1 105.1 414.1 105.1 416.1 105.1 418.1 105.1 420.1 105.1 422.1 105.1 424.2 105.1 426.2 105.1 428.2 105.1 430.2 105.1 432.2 105.1 434.2 105.1 436.3 105.1 438.3 105.1 440.3 105.1 442.3 105.1 444.3 105.1 446.3 105.1 448.4 105.1 450.4 105.1 452.4 105.1 454.4 105.1 456.4 150.8 458.4 150.8 460.5 150.8 462.5 150.8 464.5 150.8 466.5 150.8" fill="none" stroke="#ff0000" stroke-width="0.6" marker-start="url(#m5)" marker-mid="url(#m5)" marker-end="url(#m5)"/><path d="M266.9 44.4 268.9 50.6 270.9 50.6 273 50.6 275 50.6 277 50.6 279 50.6 281 50.6 283 50.6 285.1 50.6 287.1 50.6 289.1 50.6 291.1 50.6 293.1 61.4 295.1 88.5 297.2 88.5 299.2 88.5 301.2 88.5 303.2 88.5 305.2 88.5 307.2 88.5 309.3 88.5 311.3 88.5 313.3 88.5 315.3 88.5 317.3 88.5 319.3 88.5 321.3 88.5 323.4 88.5 325.4 88.5 327.4 125.2 329.4 125.2 331.4 125.2 333.4 125.2 335.5 125.2 337.5 125.2 339.5 125.2 341.5 125.2 343.5 125.2 345.5 125.2 347.6 125.2 349.6 125.2 351.6 125.2 353.6 125.2 355.6 125.2 357.6 125.2 359.7 125.2 361.7 125.2 363.7 125.2 365.7 125.2 367.7 125.2 369.7 125.2 371.7 125.2 373.8 125.2 375.8 125.2 377.8 125.2 379.8 125.2 381.8 125.2 383.8 125.2 385.9 125.2 387.9 125.2 389.9 125.2 391.9 125.2 393.9 125.2 395.9 125.2 398 125.2 400 125.2 402 125.2 404 125.2 406 125.2 408 125.2 410.1 125.2 412.1 125.2 414.1 125.2 416.1 125.2 418.1 125.2 420.1 125.2 422.1 125.2 424.2 125.2 426.2 125.2 428.2 125.2 430.2 125.2 432.2 125.2 434.2 125.2 436.3 125.2 438.3 125.2 440.3 125.2 442.3 125.2 444.3 125.2 446.3 125.2 448.4 125.2 450.4 125.2 452.4 125.2 454.4 125.2 456.4 125.2 458.4 125.2 460.5 125.2 462.5 125.2 464.5 125.2 466.5 125.2" fill="none" stroke="#0000ff" stroke-width="0.6" marker-start="url(#m6)" marker-mid="url(#m6)" marker-end="url(#m6)"/><path d="M266.9 10.9 268.9 10.9 270.9 68 273 68 275 68 277 68 279 68 281 68 283 68 285.1 68 287.1 68 289.1 68 291.1 68 293.1 68 295.1 68 297.2 68 299.2 68 301.2 68 303.2 68 305.2 68 307.2 68 309.3 75.3 311.3 75.3 313.3 75.3 315.3 105 317.3 105 319.3 105 321.3 105 323.4 105 325.4 105 327.4 105 329.4 105 331.4 105 333.4 105 335.5 105 337.5 150.5 339.5 150.5 341.5 150.5 343.5 150.5 345.5 150.5 347.6 150.5 349.6 150.5 351.6 150.5 353.6 150.5 355.6 150.5 357.6 150.5 359.7 150.5 361.7 150.5 363.7 150.5 365.7 150.5 367.7 150.5 369.7 150.5 371.7 150.5 373.8 150.5 375.8 150.5 377.8 150.5 379.8 150.5 381.8 150.5 383.8 150.5 385.9 150.5 387.9 150.5 389.9 150.5 391.9 150.5 393.9 150.5 395.9 150.5 398 150.5 400 150.5 402 150.5 404 150.5 406 150.5 408 150.5 410.1 150.5 412.1 150.5 414.1 150.5 416.1 150.5 418.1 150.5 420.1 150.5 422.1 150.5 424.2 150.5 426.2 150.5 428.2 150.5 430.2 150.5 432.2 150.5 434.2 150.5 436.3 150.5 438.3 150.5 440.3 150.5 442.3 150.5 444.3 150.5 446.3 150.5 448.4 150.5 450.4 150.5 452.4 150.5 454.4 150.5 456.4 150.5 458.4 150.5 460.5 150.5 462.5 150.5 464.5 150.5 466.5 150.5" fill="none" stroke="#7070ff" stroke-width="0.6" marker-start="url(#m7)" marker-mid="url(#m7)" marker-end="url(#m7)"/></g>
<path d="M264.9 9.5V172.2H466.5" fill="none" stroke="#262626" stroke-width="0.5"/><path d="M264.9 172.2h1.6M264.9 149h1.6M264.9 125.7h1.6M264.9 102.5h1.6M264.9 79.2h1.6M264.9 56h1.6M264.9 32.7h1.6M264.9 9.5h1.6M264.9 172.2v-1.6M305.2 172.2v-1.6M345.5 172.2v-1.6M385.9 172.2v-1.6M426.2 172.2v-1.6M466.5 172.2v-1.6" stroke="#262626" stroke-width="0.5"/>
<g fill="#262626"><text transform="translate(261.3 175) scale(0.96 1.12)" text-anchor="end" font-size="6.3">2600</text><text transform="translate(261.3 151.8) scale(0.96 1.12)" text-anchor="end" font-size="6.3">2800</text><text transform="translate(261.3 128.6) scale(0.96 1.12)" text-anchor="end" font-size="6.3">3000</text><text transform="translate(261.3 105.3) scale(0.96 1.12)" text-anchor="end" font-size="6.3">3200</text><text transform="translate(261.3 82.1) scale(0.96 1.12)" text-anchor="end" font-size="6.3">3400</text><text transform="translate(261.3 58.8) scale(0.96 1.12)" text-anchor="end" font-size="6.3">3600</text><text transform="translate(261.3 35.6) scale(0.96 1.12)" text-anchor="end" font-size="6.3">3800</text><text transform="translate(261.3 12.3) scale(0.96 1.12)" text-anchor="end" font-size="6.3">4000</text><text transform="translate(264.9 181.9) scale(0.96 1.12)" text-anchor="middle" font-size="6.3">0</text><text transform="translate(305.2 181.9) scale(0.96 1.12)" text-anchor="middle" font-size="6.3">20</text><text transform="translate(345.5 181.9) scale(0.96 1.12)" text-anchor="middle" font-size="6.3">40</text><text transform="translate(385.9 181.9) scale(0.96 1.12)" text-anchor="middle" font-size="6.3">60</text><text transform="translate(426.2 181.9) scale(0.96 1.12)" text-anchor="middle" font-size="6.3">80</text><text transform="translate(466.5 181.9) scale(0.96 1.12)" text-anchor="middle" font-size="6.3">100</text></g>
<text transform="translate(365.2 190.2) scale(1 1.12)" text-anchor="middle" font-size="6.6" fill="#262626" textLength="24.0" lengthAdjust="spacingAndGlyphs">Iteration</text>
<text transform="translate(242.5 90.9) rotate(-90)" x="0" y="2.3" text-anchor="middle" font-size="6.6" fill="#262626" textLength="37.5" lengthAdjust="spacingAndGlyphs">Best Fitness</text>
<text transform="translate(366.3 7.8) scale(1 1.08)" text-anchor="middle" font-size="7.0" font-weight="bold" fill="#000" textLength="74.5" lengthAdjust="spacingAndGlyphs">Dataset: haberman.mat</text>
<g><rect x="420.2" y="14.5" width="41" height="79.9" fill="#fff" stroke="#555" stroke-width="0.5"/><path d="M422.3 19.3H440.4" stroke="#000000" stroke-width="0.7"/><text x="442.7" y="21.4" font-size="5.8" fill="#1a1a1a">IAS 1</text><path d="M422.3 27.2H440.4" stroke="#333333" stroke-width="0.6"/><path d="M431.4 27.2h0.01" stroke="none" fill="none" marker-start="url(#m8)"/><text x="442.7" y="29.2" font-size="5.8" fill="#1a1a1a">IAS 2</text><path d="M422.3 35H440.4" stroke="#444444" stroke-width="0.5" stroke-dasharray="0.6 1.2"/><path d="M431.4 35h0.01" stroke="none" fill="none" marker-start="url(#m9)"/><text x="442.7" y="37.1" font-size="5.8" fill="#1a1a1a">IAS 3</text><path d="M422.3 42.9H440.4" stroke="#383838" stroke-width="0.5" stroke-dasharray="0.6 1.2"/><path d="M431.4 42.9h0.01" stroke="none" fill="none" marker-start="url(#m2)"/><text x="442.7" y="45" font-size="5.8" fill="#1a1a1a">IAS 4</text><path d="M422.3 50.7H440.4" stroke="#ff0000" stroke-width="0.6" stroke-dasharray="0.6 1.2"/><text x="442.7" y="52.8" font-size="5.8" fill="#1a1a1a">IAS 5</text><path d="M422.3 58.6H440.4" stroke="#ff8080" stroke-width="0.5" stroke-dasharray="0.6 1.2"/><path d="M431.4 58.6h0.01" stroke="none" fill="none" marker-start="url(#m10)"/><text x="442.7" y="60.7" font-size="5.8" fill="#1a1a1a">IAS 6</text><path d="M422.3 66.5H440.4" stroke="#ff0000" stroke-width="0.5" stroke-dasharray="0.6 1.2"/><path d="M431.4 66.5h0.01" stroke="none" fill="none" marker-start="url(#m11)"/><text x="442.7" y="68.5" font-size="5.8" fill="#1a1a1a">IAS 7</text><path d="M422.3 74.3H440.4" stroke="#ff0000" stroke-width="0.6"/><path d="M431.4 74.3h0.01" stroke="none" fill="none" marker-start="url(#m5)"/><text x="442.7" y="76.4" font-size="5.8" fill="#1a1a1a">IAS 8</text><path d="M422.3 82.2H440.4" stroke="#0000ff" stroke-width="0.6"/><path d="M431.4 82.2h0.01" stroke="none" fill="none" marker-start="url(#m6)"/><text x="442.7" y="84.3" font-size="5.8" fill="#1a1a1a">IAS 9</text><path d="M422.3 90H440.4" stroke="#7070ff" stroke-width="0.6"/><path d="M431.4 90h0.01" stroke="none" fill="none" marker-start="url(#m7)"/><text x="442.7" y="92.1" font-size="5.8" fill="#1a1a1a">IAS 10</text></g>
<g><path d="M27.7 311.1 29.7 311.1 31.6 318.5 33.6 318.5 35.5 323.6 37.4 323.6 39.4 323.6 41.3 323.6 43.3 323.6 45.2 323.6 47.1 323.6 49.1 323.6 51 323.6 53 323.6 54.9 323.6 56.8 323.6 58.8 323.6 60.7 323.6 62.7 323.6 64.6 323.6 66.5 323.6 68.5 323.6 70.4 323.6 72.4 323.6 74.3 323.6 76.2 323.6 78.2 323.6 80.1 323.6 82.1 323.6 84 323.6 85.9 323.6 87.9 323.6 89.8 323.6 91.8 323.6 93.7 323.6 95.6 323.6 97.6 323.6 99.5 323.6 101.5 323.6 103.4 323.6 105.3 323.6 107.3 323.6 109.2 323.6 111.2 323.6 113.1 323.6 115 323.6 117 323.6 118.9 323.6 120.9 323.6 122.8 323.6 124.7 323.6 126.7 323.6 128.6 323.6 130.6 323.6 132.5 323.6 134.4 323.6 136.4 323.6 138.3 323.6 140.3 323.6 142.2 323.6 144.1 323.6 146.1 323.6 148 323.6 150 323.6 151.9 323.6 153.8 323.6 155.8 323.6 157.7 323.6 159.7 323.6 161.6 323.6 163.5 323.6 165.5 323.6 167.4 323.6 169.4 323.6 171.3 323.6 173.2 323.6 175.2 323.6 177.1 323.6 179.1 323.6 181 323.6 182.9 323.6 184.9 323.6 186.8 323.6 188.8 323.6 190.7 323.6 192.6 323.6 194.6 323.6 196.5 323.6 198.5 323.6 200.4 323.6 202.3 323.6 204.3 323.6 206.2 323.6 208.2 323.6 210.1 323.6 212 323.6 214 323.6 215.9 323.6 217.9 323.6 219.8 323.6" fill="none" stroke="#b8b8b8" stroke-width="0.5"/><path d="M27.7 315 29.7 315 31.6 330.7 33.6 335.4 35.5 335.4 37.4 335.4 39.4 335.4 41.3 335.4 43.3 335.4 45.2 335.4 47.1 335.4 49.1 335.4 51 335.4 53 335.4 54.9 335.4 56.8 335.4 58.8 335.4 60.7 335.4 62.7 335.4 64.6 335.4 66.5 335.4 68.5 335.4 70.4 335.4 72.4 335.4 74.3 335.4 76.2 335.4 78.2 335.4 80.1 335.4 82.1 335.4 84 335.4 85.9 335.4 87.9 335.4 89.8 335.4 91.8 335.4 93.7 335.4 95.6 335.4 97.6 335.4 99.5 335.4 101.5 335.4 103.4 335.4 105.3 335.4 107.3 335.4 109.2 335.4 111.2 335.4 113.1 335.4 115 335.4 117 335.4 118.9 335.4 120.9 335.4 122.8 335.4 124.7 335.4 126.7 335.4 128.6 335.4 130.6 335.4 132.5 335.4 134.4 335.4 136.4 335.4 138.3 335.4 140.3 335.4 142.2 335.4 144.1 335.4 146.1 335.4 148 335.4 150 335.4 151.9 335.4 153.8 335.4 155.8 335.4 157.7 335.4 159.7 335.4 161.6 335.4 163.5 335.4 165.5 335.4 167.4 335.4 169.4 335.4 171.3 335.4 173.2 335.4 175.2 335.4 177.1 335.4 179.1 335.4 181 335.4 182.9 335.4 184.9 335.4 186.8 335.4 188.8 335.4 190.7 335.4 192.6 335.4 194.6 335.4 196.5 335.4 198.5 335.4 200.4 335.4 202.3 335.4 204.3 335.4 206.2 335.4 208.2 335.4 210.1 335.4 212 335.4 214 335.4 215.9 335.4 217.9 335.4 219.8 335.4" fill="none" stroke="#000000" stroke-width="0.5" marker-start="url(#m12)" marker-mid="url(#m12)" marker-end="url(#m12)"/><path d="M27.7 284.4 29.7 284.4 31.6 284.4 33.6 284.4 35.5 284.4 37.4 284.4 39.4 284.4 41.3 284.4 43.3 284.4 45.2 284.4 47.1 284.4 49.1 284.4 51 284.4 53 284.4 54.9 284.4 56.8 284.4 58.8 284.4 60.7 284.4 62.7 284.4 64.6 284.4 66.5 284.4 68.5 284.4 70.4 284.4 72.4 284.4 74.3 284.4 76.2 284.4 78.2 284.4 80.1 284.4 82.1 284.4 84 284.4 85.9 284.4 87.9 284.4 89.8 284.4 91.8 284.4 93.7 284.4 95.6 284.4 97.6 284.4 99.5 284.4 101.5 284.4 103.4 284.4 105.3 284.4 107.3 284.4 109.2 284.4 111.2 284.4 113.1 284.4 115 284.4 117 284.4 118.9 284.4 120.9 284.4 122.8 284.4 124.7 284.4 126.7 284.4 128.6 288.7 130.6 288.7 132.5 288.7 134.4 288.7 136.4 288.7 138.3 288.7 140.3 288.7 142.2 288.7 144.1 288.7 146.1 288.7 148 288.7 150 288.7 151.9 288.7 153.8 288.7 155.8 288.7 157.7 288.7 159.7 288.7 161.6 288.7 163.5 288.7 165.5 288.7 167.4 288.7 169.4 288.7 171.3 288.7 173.2 288.7 175.2 288.7 177.1 288.7 179.1 288.7 181 288.7 182.9 288.7 184.9 288.7 186.8 288.7 188.8 288.7 190.7 288.7 192.6 288.7 194.6 288.7 196.5 288.7 198.5 288.7 200.4 288.7 202.3 288.7 204.3 288.7 206.2 288.7 208.2 288.7 210.1 288.7 212 288.7 214 288.7 215.9 288.7 217.9 288.7 219.8 288.7" fill="none" stroke="#333333" stroke-width="0.5" stroke-dasharray="0.6 1.2" marker-start="url(#m13)" marker-mid="url(#m13)" marker-end="url(#m13)"/><path d="M27.7 322.8 29.7 322.8 31.6 322.8 33.6 335.4 35.5 335.4 37.4 335.4 39.4 335.4 41.3 335.4 43.3 335.4 45.2 335.4 47.1 335.4 49.1 335.4 51 335.4 53 335.4 54.9 335.4 56.8 335.4 58.8 335.4 60.7 335.4 62.7 335.4 64.6 335.4 66.5 335.4 68.5 335.4 70.4 335.4 72.4 335.4 74.3 335.4 76.2 335.4 78.2 335.4 80.1 335.4 82.1 335.4 84 335.4 85.9 335.4 87.9 335.4 89.8 335.4 91.8 335.4 93.7 335.4 95.6 335.4 97.6 335.4 99.5 335.4 101.5 335.4 103.4 335.4 105.3 335.4 107.3 335.4 109.2 335.4 111.2 335.4 113.1 335.4 115 335.4 117 335.4 118.9 335.4 120.9 335.4 122.8 335.4 124.7 335.4 126.7 335.4 128.6 335.4 130.6 335.4 132.5 335.4 134.4 335.4 136.4 335.4 138.3 335.4 140.3 335.4 142.2 335.4 144.1 335.4 146.1 335.4 148 335.4 150 335.4 151.9 335.4 153.8 335.4 155.8 335.4 157.7 335.4 159.7 335.4 161.6 335.4 163.5 335.4 165.5 335.4 167.4 335.4 169.4 335.4 171.3 335.4 173.2 335.4 175.2 335.4 177.1 335.4 179.1 335.4 181 335.4 182.9 335.4 184.9 335.4 186.8 335.4 188.8 335.4 190.7 335.4 192.6 335.4 194.6 335.4 196.5 335.4 198.5 335.4 200.4 335.4 202.3 335.4 204.3 335.4 206.2 335.4 208.2 335.4 210.1 335.4 212 335.4 214 335.4 215.9 335.4 217.9 335.4 219.8 335.4" fill="none" stroke="#383838" stroke-width="0.5" stroke-dasharray="0.6 1.2" marker-start="url(#m2)" marker-mid="url(#m2)" marker-end="url(#m2)"/><path d="M27.7 223.6 29.7 223.6 31.6 223.6 33.6 223.6 35.5 223.6 37.4 223.6 39.4 223.6 41.3 223.6 43.3 223.6 45.2 223.6 47.1 223.6 49.1 223.6 51 223.6 53 223.6 54.9 223.6 56.8 223.6 58.8 223.6 60.7 223.6 62.7 223.6 64.6 223.6 66.5 223.6 68.5 223.6 70.4 223.6 72.4 223.6 74.3 223.6 76.2 223.6 78.2 223.6 80.1 223.6 82.1 223.6 84 223.6 85.9 223.6 87.9 223.6 89.8 223.6 91.8 223.6 93.7 223.6 95.6 223.6 97.6 223.6 99.5 223.6 101.5 223.6 103.4 223.6 105.3 223.6 107.3 223.6 109.2 223.6 111.2 223.6 113.1 223.6 115 223.6 117 223.6 118.9 223.6 120.9 223.6 122.8 223.6 124.7 223.6 126.7 223.6 128.6 223.6 130.6 223.6 132.5 223.6 134.4 223.6 136.4 223.6 138.3 223.6 140.3 223.6 142.2 223.6 144.1 223.6 146.1 223.6 148 223.6 150 223.6 151.9 223.6 153.8 223.6 155.8 223.6 157.7 223.6 159.7 223.6 161.6 223.6 163.5 223.6 165.5 223.6 167.4 223.6 169.4 223.6 171.3 223.6 173.2 223.6 175.2 223.6 177.1 223.6 179.1 223.6 181 223.6 182.9 223.6 184.9 223.6 186.8 223.6 188.8 223.6 190.7 223.6 192.6 223.6 194.6 223.6 196.5 223.6 198.5 223.6 200.4 223.6 202.3 223.6 204.3 223.6 206.2 223.6 208.2 223.6 210.1 223.6 212 223.6 214 223.6 215.9 223.6 217.9 223.6 219.8 223.6" fill="none" stroke="#ff0000" stroke-width="0.6" stroke-dasharray="0.6 1.2" marker-start="url(#m14)" marker-mid="url(#m14)" marker-end="url(#m14)"/><path d="M27.7 233.4 29.7 295.4 31.6 295.4 33.6 295.4 35.5 295.4 37.4 295.4 39.4 295.4 41.3 295.4 43.3 295.4 45.2 295.4 47.1 295.4 49.1 295.4 51 295.4 53 295.4 54.9 295.4 56.8 295.4 58.8 295.4 60.7 295.4 62.7 295.4 64.6 295.4 66.5 295.4 68.5 295.4 70.4 295.4 72.4 295.4 74.3 295.4 76.2 295.4 78.2 295.4 80.1 295.4 82.1 295.4 84 295.4 85.9 295.4 87.9 295.4 89.8 295.4 91.8 295.4 93.7 295.4 95.6 295.4 97.6 295.4 99.5 295.4 101.5 295.4 103.4 295.4 105.3 295.4 107.3 295.4 109.2 295.4 111.2 295.4 113.1 295.4 115 295.4 117 295.4 118.9 295.4 120.9 295.4 122.8 295.4 124.7 295.4 126.7 295.4 128.6 295.4 130.6 295.4 132.5 295.4 134.4 295.4 136.4 295.4 138.3 295.4 140.3 295.4 142.2 295.4 144.1 295.4 146.1 295.4 148 295.4 150 295.4 151.9 295.4 153.8 295.4 155.8 295.4 157.7 295.4 159.7 295.4 161.6 295.4 163.5 295.4 165.5 295.4 167.4 295.4 169.4 295.4 171.3 295.4 173.2 295.4 175.2 295.4 177.1 295.4 179.1 295.4 181 295.4 182.9 295.4 184.9 295.4 186.8 295.4 188.8 295.4 190.7 295.4 192.6 295.4 194.6 295.4 196.5 295.4 198.5 295.4 200.4 295.4 202.3 295.4 204.3 295.4 206.2 295.4 208.2 295.4 210.1 295.4 212 295.4 214 295.4 215.9 295.4 217.9 295.4 219.8 295.4" fill="none" stroke="#ff0000" stroke-width="0.5" stroke-dasharray="0.6 1.2" marker-start="url(#m3)" marker-mid="url(#m3)" marker-end="url(#m3)"/><path d="M27.7 274.2 29.7 274.2 31.6 274.2 33.6 274.2 35.5 302.4 37.4 302.4 39.4 302.4 41.3 302.4 43.3 302.4 45.2 302.4 47.1 302.4 49.1 302.4 51 302.4 53 302.4 54.9 302.4 56.8 302.4 58.8 302.4 60.7 302.4 62.7 302.4 64.6 302.4 66.5 302.4 68.5 302.4 70.4 302.4 72.4 302.4 74.3 302.4 76.2 302.4 78.2 302.4 80.1 302.4 82.1 302.4 84 302.4 85.9 302.4 87.9 302.4 89.8 302.4 91.8 302.4 93.7 302.4 95.6 302.4 97.6 302.4 99.5 302.4 101.5 302.4 103.4 302.4 105.3 302.4 107.3 302.4 109.2 302.4 111.2 302.4 113.1 302.4 115 302.4 117 302.4 118.9 302.4 120.9 302.4 122.8 302.4 124.7 302.4 126.7 302.4 128.6 302.4 130.6 302.4 132.5 302.4 134.4 302.4 136.4 302.4 138.3 303.6 140.3 303.6 142.2 303.6 144.1 303.6 146.1 303.6 148 303.6 150 303.6 151.9 303.6 153.8 303.6 155.8 303.6 157.7 303.6 159.7 303.6 161.6 303.6 163.5 303.6 165.5 303.6 167.4 303.6 169.4 303.6 171.3 303.6 173.2 303.6 175.2 303.6 177.1 303.6 179.1 303.6 181 303.6 182.9 303.6 184.9 303.6 186.8 303.6 188.8 303.6 190.7 303.6 192.6 303.6 194.6 303.6 196.5 303.6 198.5 303.6 200.4 303.6 202.3 303.6 204.3 303.6 206.2 303.6 208.2 303.6 210.1 303.6 212 303.6 214 303.6 215.9 303.6 217.9 303.6 219.8 303.6" fill="none" stroke="#ff0000" stroke-width="0.5" stroke-dasharray="0.6 1.2" marker-start="url(#m15)" marker-mid="url(#m15)" marker-end="url(#m15)"/><path d="M27.7 232.6 29.7 318.5 31.6 318.5 33.6 337.4 35.5 337.4 37.4 337.4 39.4 337.4 41.3 337.4 43.3 337.4 45.2 337.4 47.1 337.4 49.1 337.4 51 337.4 53 337.4 54.9 337.4 56.8 337.4 58.8 337.4 60.7 337.4 62.7 337.4 64.6 337.4 66.5 337.4 68.5 337.4 70.4 337.4 72.4 337.4 74.3 337.4 76.2 337.4 78.2 337.4 80.1 337.4 82.1 337.4 84 337.4 85.9 337.4 87.9 337.4 89.8 337.4 91.8 337.4 93.7 337.4 95.6 337.4 97.6 337.4 99.5 337.4 101.5 337.4 103.4 337.4 105.3 337.4 107.3 337.4 109.2 337.4 111.2 337.4 113.1 337.4 115 337.4 117 337.4 118.9 337.4 120.9 337.4 122.8 337.4 124.7 337.4 126.7 337.4 128.6 337.4 130.6 337.4 132.5 337.4 134.4 337.4 136.4 337.4 138.3 337.4 140.3 337.4 142.2 337.4 144.1 337.4 146.1 337.4 148 337.4 150 337.4 151.9 337.4 153.8 337.4 155.8 337.4 157.7 337.4 159.7 337.4 161.6 337.4 163.5 337.4 165.5 337.4 167.4 337.4 169.4 337.4 171.3 337.4 173.2 337.4 175.2 337.4 177.1 337.4 179.1 337.4 181 337.4 182.9 337.4 184.9 337.4 186.8 337.4 188.8 337.4 190.7 337.4 192.6 337.4 194.6 337.4 196.5 337.4 198.5 337.4 200.4 337.4 202.3 337.4 204.3 337.4 206.2 337.4 208.2 337.4 210.1 337.4 212 339.3 214 339.3 215.9 339.3 217.9 339.3 219.8 339.3" fill="none" stroke="#ff0000" stroke-width="0.6" marker-start="url(#m5)" marker-mid="url(#m5)" marker-end="url(#m5)"/><path d="M27.7 322.8 29.7 331.5 31.6 331.5 33.6 331.5 35.5 331.5 37.4 331.5 39.4 331.5 41.3 331.5 43.3 331.5 45.2 331.5 47.1 331.5 49.1 331.5 51 331.5 53 331.5 54.9 331.5 56.8 331.5 58.8 331.5 60.7 331.5 62.7 331.5 64.6 331.5 66.5 331.5 68.5 331.5 70.4 331.5 72.4 331.5 74.3 331.5 76.2 331.5 78.2 331.5 80.1 331.5 82.1 331.5 84 331.5 85.9 331.5 87.9 331.5 89.8 331.5 91.8 331.5 93.7 331.5 95.6 331.5 97.6 331.5 99.5 331.5 101.5 331.5 103.4 331.5 105.3 331.5 107.3 331.5 109.2 331.5 111.2 331.5 113.1 331.5 115 331.5 117 331.5 118.9 331.5 120.9 331.5 122.8 331.5 124.7 331.5 126.7 331.5 128.6 331.5 130.6 331.5 132.5 331.5 134.4 331.5 136.4 331.5 138.3 331.5 140.3 331.5 142.2 331.5 144.1 331.5 146.1 331.5 148 331.5 150 331.5 151.9 331.5 153.8 331.5 155.8 331.5 157.7 331.5 159.7 331.5 161.6 331.5 163.5 331.5 165.5 331.5 167.4 331.5 169.4 331.5 171.3 331.5 173.2 331.5 175.2 331.5 177.1 331.5 179.1 331.5 181 331.5 182.9 331.5 184.9 331.5 186.8 331.5 188.8 331.5 190.7 331.5 192.6 331.5 194.6 331.5 196.5 331.5 198.5 331.5 200.4 331.5 202.3 331.5 204.3 331.5 206.2 331.5 208.2 331.5 210.1 331.5 212 331.5 214 331.5 215.9 331.5 217.9 331.5 219.8 331.5" fill="none" stroke="#0000ff" stroke-width="0.6" marker-start="url(#m6)" marker-mid="url(#m6)" marker-end="url(#m6)"/><path d="M27.7 254.2 29.7 254.2 31.6 254.2 33.6 255 35.5 267.5 37.4 270.3 39.4 284.4 41.3 287.9 43.3 291.8 45.2 291.8 47.1 296.2 49.1 296.2 51 296.2 53 296.2 54.9 296.2 56.8 296.2 58.8 296.2 60.7 296.2 62.7 296.2 64.6 296.2 66.5 296.2 68.5 296.2 70.4 296.2 72.4 296.2 74.3 296.2 76.2 296.2 78.2 296.2 80.1 296.2 82.1 296.2 84 296.2 85.9 296.2 87.9 296.2 89.8 296.2 91.8 296.2 93.7 296.2 95.6 296.2 97.6 296.2 99.5 296.2 101.5 296.2 103.4 296.2 105.3 296.2 107.3 296.2 109.2 296.2 111.2 296.2 113.1 296.2 115 296.2 117 296.2 118.9 296.2 120.9 296.2 122.8 296.2 124.7 296.2 126.7 296.2 128.6 296.2 130.6 296.2 132.5 296.2 134.4 296.2 136.4 296.2 138.3 296.2 140.3 296.2 142.2 296.2 144.1 296.2 146.1 296.2 148 296.2 150 296.2 151.9 296.2 153.8 296.2 155.8 296.2 157.7 296.2 159.7 296.2 161.6 296.2 163.5 296.2 165.5 296.2 167.4 296.2 169.4 296.2 171.3 296.2 173.2 296.2 175.2 296.2 177.1 296.2 179.1 296.2 181 296.2 182.9 296.2 184.9 296.2 186.8 296.2 188.8 296.2 190.7 296.2 192.6 296.2 194.6 296.2 196.5 296.2 198.5 296.2 200.4 296.2 202.3 296.2 204.3 296.2 206.2 296.2 208.2 296.2 210.1 296.2 212 296.2 214 296.2 215.9 296.2 217.9 296.2 219.8 296.2" fill="none" stroke="#0000ff" stroke-width="0.6" marker-start="url(#m16)" marker-mid="url(#m16)" marker-end="url(#m16)"/></g>
<path d="M25.8 213V350.3H219.8" fill="none" stroke="#262626" stroke-width="0.5"/><path d="M25.8 350.3h1.6M25.8 330.7h1.6M25.8 311.1h1.6M25.8 291.5h1.6M25.8 271.8h1.6M25.8 252.2h1.6M25.8 232.6h1.6M25.8 213h1.6M25.8 350.3v-1.6M64.6 350.3v-1.6M103.4 350.3v-1.6M142.2 350.3v-1.6M181 350.3v-1.6M219.8 350.3v-1.6" stroke="#262626" stroke-width="0.5"/>
<g fill="#262626"><text transform="translate(23.1 352.8) scale(1.0 0.93)" text-anchor="end" font-size="6.3">550</text><text transform="translate(23.1 333.2) scale(1.0 0.93)" text-anchor="end" font-size="6.3">600</text><text transform="translate(23.1 313.6) scale(1.0 0.93)" text-anchor="end" font-size="6.3">650</text><text transform="translate(23.1 294) scale(1.0 0.93)" text-anchor="end" font-size="6.3">700</text><text transform="translate(23.1 274.4) scale(1.0 0.93)" text-anchor="end" font-size="6.3">750</text><text transform="translate(23.1 254.7) scale(1.0 0.93)" text-anchor="end" font-size="6.3">800</text><text transform="translate(23.1 235.1) scale(1.0 0.93)" text-anchor="end" font-size="6.3">850</text><text transform="translate(23.1 215.5) scale(1.0 0.93)" text-anchor="end" font-size="6.3">900</text><text transform="translate(25.8 358.4) scale(1.0 0.93)" text-anchor="middle" font-size="6.3">0</text><text transform="translate(64.6 358.4) scale(1.0 0.93)" text-anchor="middle" font-size="6.3">20</text><text transform="translate(103.4 358.4) scale(1.0 0.93)" text-anchor="middle" font-size="6.3">40</text><text transform="translate(142.2 358.4) scale(1.0 0.93)" text-anchor="middle" font-size="6.3">60</text><text transform="translate(181 358.4) scale(1.0 0.93)" text-anchor="middle" font-size="6.3">80</text><text transform="translate(219.8 358.4) scale(1.0 0.93)" text-anchor="middle" font-size="6.3">100</text></g>
<text transform="translate(122.9 365.5) scale(1 1.0)" text-anchor="middle" font-size="6.4" fill="#262626" textLength="23.1" lengthAdjust="spacingAndGlyphs">Iteration</text>
<text transform="translate(8.2 281.6) rotate(-90)" x="0" y="2.2" text-anchor="middle" font-size="6.4" fill="#262626" textLength="32.3" lengthAdjust="spacingAndGlyphs">Best Fitness</text>
<text transform="translate(123.5 211) scale(1 0.87)" text-anchor="middle" font-size="6.6" font-weight="bold" fill="#000" textLength="58.3" lengthAdjust="spacingAndGlyphs">Dataset: libras.mat</text>
<g><rect x="175.6" y="216.6" width="39.9" height="67.8" fill="#fff" stroke="#555" stroke-width="0.5"/><path d="M177.1 221H195.2" stroke="#b8b8b8" stroke-width="0.5"/><text x="197" y="222.9" font-size="5.35" fill="#1a1a1a">IAS 1</text><path d="M177.1 227.7H195.2" stroke="#000000" stroke-width="0.5"/><path d="M186.1 227.7h0.01" stroke="none" fill="none" marker-start="url(#m12)"/><text x="197" y="229.6" font-size="5.35" fill="#1a1a1a">IAS 2</text><path d="M177.1 234.3H195.2" stroke="#333333" stroke-width="0.5" stroke-dasharray="0.6 1.2"/><path d="M186.1 234.3h0.01" stroke="none" fill="none" marker-start="url(#m13)"/><text x="197" y="236.3" font-size="5.35" fill="#1a1a1a">IAS 3</text><path d="M177.1 241H195.2" stroke="#383838" stroke-width="0.5" stroke-dasharray="0.6 1.2"/><path d="M186.1 241h0.01" stroke="none" fill="none" marker-start="url(#m2)"/><text x="197" y="242.9" font-size="5.35" fill="#1a1a1a">IAS 4</text><path d="M177.1 247.7H195.2" stroke="#ff0000" stroke-width="0.6" stroke-dasharray="0.6 1.2"/><path d="M186.1 247.7h0.01" stroke="none" fill="none" marker-start="url(#m14)"/><text x="197" y="249.6" font-size="5.35" fill="#1a1a1a">IAS 5</text><path d="M177.1 254.3H195.2" stroke="#ff0000" stroke-width="0.5" stroke-dasharray="0.6 1.2"/><path d="M186.1 254.3h0.01" stroke="none" fill="none" marker-start="url(#m3)"/><text x="197" y="256.3" font-size="5.35" fill="#1a1a1a">IAS 6</text><path d="M177.1 261H195.2" stroke="#ff0000" stroke-width="0.5" stroke-dasharray="0.6 1.2"/><path d="M186.1 261h0.01" stroke="none" fill="none" marker-start="url(#m15)"/><text x="197" y="262.9" font-size="5.35" fill="#1a1a1a">IAS 7</text><path d="M177.1 267.7H195.2" stroke="#ff0000" stroke-width="0.6"/><path d="M186.1 267.7h0.01" stroke="none" fill="none" marker-start="url(#m5)"/><text x="197" y="269.6" font-size="5.35" fill="#1a1a1a">IAS 8</text><path d="M177.1 274.4H195.2" stroke="#0000ff" stroke-width="0.6"/><path d="M186.1 274.4h0.01" stroke="none" fill="none" marker-start="url(#m6)"/><text x="197" y="276.3" font-size="5.35" fill="#1a1a1a">IAS 9</text><path d="M177.1 281H195.2" stroke="#0000ff" stroke-width="0.6"/><path d="M186.1 281h0.01" stroke="none" fill="none" marker-start="url(#m16)"/><text x="197" y="283" font-size="5.35" fill="#1a1a1a">IAS 10</text></g>
<g><path d="M267.3 290.2 269.2 298.5 271.1 298.5 273 302.2 274.9 302.2 276.9 302.2 278.8 302.2 280.7 302.2 282.6 302.2 284.5 302.2 286.4 302.2 288.3 302.2 290.2 319.1 292.1 319.1 294 319.1 296 324.1 297.9 324.1 299.8 324.1 301.7 330.7 303.6 330.7 305.5 330.7 307.4 330.7 309.3 330.7 311.2 330.7 313.1 330.7 315.1 330.7 317 330.7 318.9 330.7 320.8 330.7 322.7 330.7 324.6 330.7 326.5 336.1 328.4 336.1 330.3 336.1 332.2 336.1 334.2 336.1 336.1 336.1 338 336.1 339.9 336.1 341.8 336.1 343.7 336.1 345.6 336.1 347.5 336.1 349.4 336.1 351.3 336.1 353.3 336.1 355.2 338.6 357.1 338.6 359 338.6 360.9 338.6 362.8 338.6 364.7 338.6 366.6 338.6 368.5 338.6 370.4 338.6 372.4 338.6 374.3 338.6 376.2 338.6 378.1 338.6 380 338.6 381.9 340.2 383.8 340.2 385.7 340.2 387.6 340.2 389.5 340.2 391.5 340.2 393.4 342.7 395.3 342.7 397.2 342.7 399.1 342.7 401 342.7 402.9 342.7 404.8 342.7 406.7 342.7 408.6 342.7 410.6 342.7 412.5 342.7 414.4 342.7 416.3 342.7 418.2 342.7 420.1 342.7 422 344.4 423.9 344.4 425.8 344.4 427.8 344.4 429.7 344.4 431.6 344.4 433.5 344.4 435.4 344.4 437.3 344.4 439.2 344.4 441.1 344.4 443 344.4 444.9 344.4 446.8 344.4 448.8 344.4 450.7 344.4 452.6 344.4 454.5 344.4 456.4 344.4" fill="none" stroke="#404040" stroke-width="0.6"/><path d="M267.3 310.9 269.2 310.9 271.1 310.9 273 310.9 274.9 310.9 276.9 310.9 278.8 310.9 280.7 310.9 282.6 310.9 284.5 310.9 286.4 310.9 288.3 310.9 290.2 310.9 292.1 310.9 294 310.9 296 310.9 297.9 310.9 299.8 310.9 301.7 310.9 303.6 310.9 305.5 310.9 307.4 310.9 309.3 310.9 311.2 310.9 313.1 310.9 315.1 310.9 317 310.9 318.9 310.9 320.8 310.9 322.7 310.9 324.6 310.9 326.5 310.9 328.4 310.9 330.3 310.9 332.2 310.9 334.2 310.9 336.1 310.9 338 310.9 339.9 310.9 341.8 310.9 343.7 310.9 345.6 310.9 347.5 310.9 349.4 310.9 351.3 310.9 353.3 310.9 355.2 310.9 357.1 310.9 359 310.9 360.9 310.9 362.8 310.9 364.7 310.9 366.6 310.9 368.5 310.9 370.4 310.9 372.4 310.9 374.3 310.9 376.2 310.9 378.1 310.9 380 310.9 381.9 310.9 383.8 310.9 385.7 310.9 387.6 310.9 389.5 310.9 391.5 310.9 393.4 310.9 395.3 310.9 397.2 310.9 399.1 310.9 401 310.9 402.9 310.9 404.8 310.9 406.7 310.9 408.6 310.9 410.6 310.9 412.5 310.9 414.4 310.9 416.3 310.9 418.2 310.9 420.1 310.9 422 310.9 423.9 310.9 425.8 310.9 427.8 310.9 429.7 310.9 431.6 310.9 433.5 310.9 435.4 310.9 437.3 310.9 439.2 310.9 441.1 310.9 443 310.9 444.9 310.9 446.8 310.9 448.8 310.9 450.7 310.9 452.6 310.9 454.5 310.9 456.4 310.9" fill="none" stroke="#000000" stroke-width="0.5" marker-start="url(#m17)" marker-mid="url(#m17)" marker-end="url(#m17)"/><path d="M267.3 302.6 269.2 302.6 271.1 302.6 273 302.6 274.9 315 276.9 315 278.8 315 280.7 315 282.6 315 284.5 315 286.4 329.5 288.3 329.5 290.2 329.5 292.1 329.5 294 329.5 296 329.5 297.9 329.5 299.8 329.5 301.7 329.5 303.6 329.5 305.5 329.5 307.4 329.5 309.3 329.5 311.2 329.5 313.1 329.5 315.1 329.5 317 329.5 318.9 329.5 320.8 329.5 322.7 329.5 324.6 329.5 326.5 329.5 328.4 329.5 330.3 329.5 332.2 329.5 334.2 329.5 336.1 329.5 338 329.5 339.9 329.5 341.8 329.5 343.7 329.5 345.6 329.5 347.5 329.5 349.4 329.5 351.3 329.5 353.3 329.5 355.2 329.5 357.1 330.3 359 330.3 360.9 330.3 362.8 330.3 364.7 330.3 366.6 330.3 368.5 330.3 370.4 330.3 372.4 330.3 374.3 330.3 376.2 330.3 378.1 330.3 380 332 381.9 332 383.8 332 385.7 332 387.6 332 389.5 332 391.5 332 393.4 332 395.3 332 397.2 332 399.1 332 401 332 402.9 332 404.8 332 406.7 332 408.6 332 410.6 336.1 412.5 336.1 414.4 336.1 416.3 336.1 418.2 336.1 420.1 336.1 422 336.1 423.9 336.1 425.8 336.1 427.8 336.1 429.7 336.1 431.6 336.1 433.5 336.1 435.4 336.1 437.3 336.1 439.2 336.1 441.1 336.1 443 336.1 444.9 336.1 446.8 336.1 448.8 336.1 450.7 336.1 452.6 336.1 454.5 336.1 456.4 336.1" fill="none" stroke="#606060" stroke-width="0.5" stroke-dasharray="0.6 1.2" marker-start="url(#m1)" marker-mid="url(#m1)" marker-end="url(#m1)"/><path d="M267.3 210.1 269.2 222.5 271.1 222.5 273 222.5 274.9 222.5 276.9 222.5 278.8 222.5 280.7 222.5 282.6 222.5 284.5 222.5 286.4 222.5 288.3 222.5 290.2 222.5 292.1 222.5 294 222.5 296 222.5 297.9 222.5 299.8 222.5 301.7 222.5 303.6 222.5 305.5 222.5 307.4 222.5 309.3 222.5 311.2 222.5 313.1 222.5 315.1 222.5 317 222.5 318.9 222.5 320.8 222.5 322.7 222.5 324.6 222.5 326.5 222.5 328.4 222.5 330.3 222.5 332.2 222.5 334.2 222.5 336.1 222.5 338 222.5 339.9 222.5 341.8 222.5 343.7 222.5 345.6 222.5 347.5 222.5 349.4 222.5 351.3 222.5 353.3 222.5 355.2 222.5 357.1 222.5 359 222.5 360.9 222.5 362.8 222.5 364.7 222.5 366.6 222.5 368.5 222.5 370.4 222.5 372.4 222.5 374.3 222.5 376.2 222.5 378.1 222.5 380 222.5 381.9 222.5 383.8 222.5 385.7 222.5 387.6 222.5 389.5 222.5 391.5 222.5 393.4 222.5 395.3 222.5 397.2 222.5 399.1 222.5 401 222.5 402.9 222.5 404.8 222.5 406.7 222.5 408.6 222.5 410.6 222.5 412.5 222.5 414.4 222.5 416.3 222.5 418.2 222.5 420.1 222.5 422 222.5 423.9 222.5 425.8 222.5 427.8 222.5 429.7 222.5 431.6 222.5 433.5 222.5 435.4 222.5 437.3 222.5 439.2 222.5 441.1 222.5 443 222.5 444.9 222.5 446.8 222.5 448.8 222.5 450.7 222.5 452.6 222.5 454.5 222.5 456.4 222.5" fill="none" stroke="#555555" stroke-width="0.5" stroke-dasharray="0.6 1.2" marker-start="url(#m18)" marker-mid="url(#m18)" marker-end="url(#m18)"/><path d="M267.3 243.5 269.2 271.6 271.1 305.5 273 305.5 274.9 305.5 276.9 305.5 278.8 305.5 280.7 305.5 282.6 305.5 284.5 314.2 286.4 314.2 288.3 314.2 290.2 314.2 292.1 314.2 294 314.2 296 314.2 297.9 314.2 299.8 314.2 301.7 314.2 303.6 314.2 305.5 314.2 307.4 314.2 309.3 314.2 311.2 314.2 313.1 314.2 315.1 314.2 317 314.2 318.9 314.2 320.8 314.2 322.7 314.2 324.6 314.2 326.5 314.2 328.4 314.2 330.3 314.2 332.2 314.2 334.2 314.2 336.1 314.2 338 314.2 339.9 314.2 341.8 314.2 343.7 314.2 345.6 314.2 347.5 314.2 349.4 314.2 351.3 314.2 353.3 314.2 355.2 314.2 357.1 314.2 359 314.2 360.9 314.2 362.8 314.2 364.7 314.2 366.6 314.2 368.5 314.2 370.4 314.2 372.4 314.2 374.3 314.2 376.2 314.2 378.1 314.2 380 314.2 381.9 314.2 383.8 314.2 385.7 314.2 387.6 314.2 389.5 314.2 391.5 314.2 393.4 314.2 395.3 314.2 397.2 314.2 399.1 314.2 401 314.2 402.9 314.2 404.8 314.2 406.7 314.2 408.6 314.2 410.6 314.2 412.5 314.2 414.4 314.2 416.3 314.2 418.2 314.2 420.1 314.2 422 314.2 423.9 314.2 425.8 314.2 427.8 314.2 429.7 314.2 431.6 314.2 433.5 314.2 435.4 314.2 437.3 314.2 439.2 314.2 441.1 314.2 443 314.2 444.9 314.2 446.8 314.2 448.8 314.2 450.7 314.2 452.6 314.2 454.5 314.2 456.4 314.2" fill="none" stroke="#ff0000" stroke-width="0.6" stroke-dasharray="0.6 1.2"/><path d="M267.3 302.6 269.2 302.6 271.1 310.9 273 310.9 274.9 310.9 276.9 310.9 278.8 310.9 280.7 310.9 282.6 310.9 284.5 310.9 286.4 310.9 288.3 310.9 290.2 310.9 292.1 310.9 294 310.9 296 310.9 297.9 310.9 299.8 310.9 301.7 310.9 303.6 310.9 305.5 310.9 307.4 310.9 309.3 310.9 311.2 310.9 313.1 310.9 315.1 310.9 317 310.9 318.9 310.9 320.8 310.9 322.7 310.9 324.6 310.9 326.5 310.9 328.4 310.9 330.3 310.9 332.2 310.9 334.2 310.9 336.1 310.9 338 310.9 339.9 310.9 341.8 310.9 343.7 310.9 345.6 310.9 347.5 310.9 349.4 310.9 351.3 310.9 353.3 310.9 355.2 310.9 357.1 310.9 359 310.9 360.9 310.9 362.8 310.9 364.7 310.9 366.6 310.9 368.5 310.9 370.4 310.9 372.4 310.9 374.3 310.9 376.2 310.9 378.1 310.9 380 310.9 381.9 310.9 383.8 310.9 385.7 310.9 387.6 310.9 389.5 310.9 391.5 310.9 393.4 310.9 395.3 310.9 397.2 310.9 399.1 310.9 401 310.9 402.9 310.9 404.8 310.9 406.7 310.9 408.6 310.9 410.6 310.9 412.5 310.9 414.4 310.9 416.3 310.9 418.2 310.9 420.1 310.9 422 310.9 423.9 310.9 425.8 310.9 427.8 310.9 429.7 310.9 431.6 310.9 433.5 310.9 435.4 310.9 437.3 310.9 439.2 310.9 441.1 310.9 443 310.9 444.9 310.9 446.8 310.9 448.8 310.9 450.7 310.9 452.6 310.9 454.5 310.9 456.4 310.9" fill="none" stroke="#ff0000" stroke-width="0.5" stroke-dasharray="0.6 1.2" marker-start="url(#m3)" marker-mid="url(#m3)" marker-end="url(#m3)"/><path d="M267.3 265.4 269.2 272.9 271.1 272.9 273 272.9 274.9 272.9 276.9 272.9 278.8 272.9 280.7 272.9 282.6 272.9 284.5 272.9 286.4 272.9 288.3 272.9 290.2 272.9 292.1 272.9 294 272.9 296 272.9 297.9 272.9 299.8 272.9 301.7 272.9 303.6 272.9 305.5 272.9 307.4 272.9 309.3 272.9 311.2 272.9 313.1 272.9 315.1 272.9 317 272.9 318.9 272.9 320.8 272.9 322.7 272.9 324.6 272.9 326.5 272.9 328.4 272.9 330.3 272.9 332.2 272.9 334.2 272.9 336.1 272.9 338 272.9 339.9 272.9 341.8 272.9 343.7 272.9 345.6 272.9 347.5 272.9 349.4 272.9 351.3 272.9 353.3 272.9 355.2 272.9 357.1 272.9 359 272.9 360.9 272.9 362.8 272.9 364.7 272.9 366.6 272.9 368.5 272.9 370.4 272.9 372.4 272.9 374.3 272.9 376.2 272.9 378.1 272.9 380 272.9 381.9 272.9 383.8 272.9 385.7 272.9 387.6 272.9 389.5 272.9 391.5 272.9 393.4 272.9 395.3 272.9 397.2 272.9 399.1 272.9 401 272.9 402.9 272.9 404.8 272.9 406.7 272.9 408.6 272.9 410.6 272.9 412.5 272.9 414.4 272.9 416.3 272.9 418.2 272.9 420.1 272.9 422 272.9 423.9 272.9 425.8 272.9 427.8 272.9 429.7 272.9 431.6 272.9 433.5 272.9 435.4 272.9 437.3 272.9 439.2 272.9 441.1 272.9 443 272.9 444.9 272.9 446.8 272.9 448.8 272.9 450.7 272.9 452.6 272.9 454.5 272.9 456.4 272.9" fill="none" stroke="#ff0000" stroke-width="0.8" marker-start="url(#m19)" marker-mid="url(#m19)" marker-end="url(#m19)"/><path d="M267.3 302.6 269.2 302.6 271.1 305.5 273 305.5 274.9 305.5 276.9 305.5 278.8 305.5 280.7 305.5 282.6 305.5 284.5 305.5 286.4 310.9 288.3 310.9 290.2 310.9 292.1 310.9 294 310.9 296 310.9 297.9 310.9 299.8 310.9 301.7 310.9 303.6 310.9 305.5 310.9 307.4 310.9 309.3 310.9 311.2 310.9 313.1 310.9 315.1 310.9 317 310.9 318.9 310.9 320.8 310.9 322.7 310.9 324.6 310.9 326.5 310.9 328.4 310.9 330.3 310.9 332.2 310.9 334.2 310.9 336.1 310.9 338 310.9 339.9 310.9 341.8 310.9 343.7 310.9 345.6 310.9 347.5 310.9 349.4 310.9 351.3 310.9 353.3 310.9 355.2 310.9 357.1 310.9 359 310.9 360.9 310.9 362.8 310.9 364.7 310.9 366.6 310.9 368.5 310.9 370.4 310.9 372.4 310.9 374.3 310.9 376.2 310.9 378.1 310.9 380 310.9 381.9 310.9 383.8 310.9 385.7 310.9 387.6 310.9 389.5 310.9 391.5 310.9 393.4 310.9 395.3 310.9 397.2 310.9 399.1 310.9 401 310.9 402.9 310.9 404.8 310.9 406.7 310.9 408.6 310.9 410.6 310.9 412.5 310.9 414.4 310.9 416.3 310.9 418.2 310.9 420.1 310.9 422 310.9 423.9 310.9 425.8 310.9 427.8 310.9 429.7 310.9 431.6 310.9 433.5 310.9 435.4 310.9 437.3 310.9 439.2 310.9 441.1 310.9 443 310.9 444.9 310.9 446.8 310.9 448.8 310.9 450.7 310.9 452.6 310.9 454.5 310.9 456.4 310.9" fill="none" stroke="#ff0000" stroke-width="0.6" marker-start="url(#m5)" marker-mid="url(#m5)" marker-end="url(#m5)"/><path d="M267.3 327.4 269.2 327.4 271.1 327.4 273 327.4 274.9 327.4 276.9 327.4 278.8 327.4 280.7 327.4 282.6 327.4 284.5 327.4 286.4 327.4 288.3 327.4 290.2 327.4 292.1 327.4 294 327.4 296 327.4 297.9 327.4 299.8 327.4 301.7 327.4 303.6 327.4 305.5 327.4 307.4 327.4 309.3 327.4 311.2 327.4 313.1 327.4 315.1 327.4 317 327.4 318.9 327.4 320.8 327.4 322.7 327.4 324.6 327.4 326.5 327.4 328.4 327.4 330.3 327.4 332.2 327.4 334.2 327.4 336.1 327.4 338 327.4 339.9 327.4 341.8 327.4 343.7 327.4 345.6 327.4 347.5 327.4 349.4 327.4 351.3 327.4 353.3 327.4 355.2 327.4 357.1 327.4 359 327.4 360.9 327.4 362.8 327.4 364.7 327.4 366.6 327.4 368.5 327.4 370.4 327.4 372.4 327.4 374.3 327.4 376.2 327.4 378.1 327.4 380 327.4 381.9 327.4 383.8 327.4 385.7 327.4 387.6 327.4 389.5 327.4 391.5 327.4 393.4 327.4 395.3 327.4 397.2 327.4 399.1 327.4 401 327.4 402.9 327.4 404.8 327.4 406.7 327.4 408.6 327.4 410.6 327.4 412.5 327.4 414.4 327.4 416.3 327.4 418.2 327.4 420.1 327.4 422 327.4 423.9 327.4 425.8 327.4 427.8 327.4 429.7 327.4 431.6 327.4 433.5 327.4 435.4 327.4 437.3 327.4 439.2 327.4 441.1 327.4 443 327.4 444.9 327.4 446.8 327.4 448.8 327.4 450.7 327.4 452.6 327.4 454.5 327.4 456.4 327.4" fill="none" stroke="#0000ff" stroke-width="0.6" marker-start="url(#m6)" marker-mid="url(#m6)" marker-end="url(#m6)"/><path d="M267.3 288.2 269.2 288.2 271.1 288.2 273 288.2 274.9 288.2 276.9 288.2 278.8 288.2 280.7 288.2 282.6 288.2 284.5 288.2 286.4 288.2 288.3 288.2 290.2 288.2 292.1 288.2 294 288.2 296 288.2 297.9 288.2 299.8 288.2 301.7 288.2 303.6 288.2 305.5 288.2 307.4 288.2 309.3 288.2 311.2 288.2 313.1 288.2 315.1 288.2 317 288.2 318.9 288.2 320.8 288.2 322.7 288.2 324.6 288.2 326.5 288.2 328.4 288.2 330.3 288.2 332.2 288.2 334.2 288.2 336.1 288.2 338 288.2 339.9 288.2 341.8 288.2 343.7 288.2 345.6 288.2 347.5 288.2 349.4 288.2 351.3 288.2 353.3 288.2 355.2 288.2 357.1 288.2 359 288.2 360.9 288.2 362.8 288.2 364.7 288.2 366.6 288.2 368.5 288.2 370.4 288.2 372.4 288.2 374.3 288.2 376.2 288.2 378.1 288.2 380 288.2 381.9 288.2 383.8 288.2 385.7 288.2 387.6 288.2 389.5 288.2 391.5 288.2 393.4 288.2 395.3 288.2 397.2 288.2 399.1 288.2 401 288.2 402.9 288.2 404.8 288.2 406.7 288.2 408.6 288.2 410.6 288.2 412.5 288.2 414.4 288.2 416.3 288.2 418.2 288.2 420.1 288.2 422 288.2 423.9 288.2 425.8 288.2 427.8 288.2 429.7 288.2 431.6 288.2 433.5 288.2 435.4 288.2 437.3 288.2 439.2 288.2 441.1 288.2 443 288.2 444.9 288.2 446.8 288.2 448.8 288.2 450.7 288.2 452.6 288.2 454.5 288.2 456.4 288.2" fill="none" stroke="#7070ff" stroke-width="0.6" marker-start="url(#m7)" marker-mid="url(#m7)" marker-end="url(#m7)"/></g>
<path d="M265.4 207.6V352.2H456.4" fill="none" stroke="#262626" stroke-width="0.5"/><path d="M265.4 352.2h1.6M265.4 331.5h1.6M265.4 310.9h1.6M265.4 290.2h1.6M265.4 269.6h1.6M265.4 248.9h1.6M265.4 228.3h1.6M265.4 207.6h1.6M265.4 352.2v-1.6M303.6 352.2v-1.6M341.8 352.2v-1.6M380 352.2v-1.6M418.2 352.2v-1.6M456.4 352.2v-1.6" stroke="#262626" stroke-width="0.5"/>
<g fill="#262626"><text transform="translate(262.8 355.4) scale(1.0 1.2)" text-anchor="end" font-size="5.6">160</text><text transform="translate(262.8 334.8) scale(1.0 1.2)" text-anchor="end" font-size="5.6">165</text><text transform="translate(262.8 314.1) scale(1.0 1.2)" text-anchor="end" font-size="5.6">170</text><text transform="translate(262.8 293.4) scale(1.0 1.2)" text-anchor="end" font-size="5.6">175</text><text transform="translate(262.8 272.8) scale(1.0 1.2)" text-anchor="end" font-size="5.6">180</text><text transform="translate(262.8 252.1) scale(1.0 1.2)" text-anchor="end" font-size="5.6">185</text><text transform="translate(262.8 231.5) scale(1.0 1.2)" text-anchor="end" font-size="5.6">190</text><text transform="translate(262.8 210.8) scale(1.0 1.2)" text-anchor="end" font-size="5.6">195</text><text transform="translate(265.4 361.4) scale(1.0 1.2)" text-anchor="middle" font-size="6.1">0</text><text transform="translate(303.6 361.4) scale(1.0 1.2)" text-anchor="middle" font-size="6.1">20</text><text transform="translate(341.8 361.4) scale(1.0 1.2)" text-anchor="middle" font-size="6.1">40</text><text transform="translate(380 361.4) scale(1.0 1.2)" text-anchor="middle" font-size="6.1">60</text><text transform="translate(418.2 361.4) scale(1.0 1.2)" text-anchor="middle" font-size="6.1">80</text><text transform="translate(456.4 361.4) scale(1.0 1.2)" text-anchor="middle" font-size="6.1">100</text></g>
<text transform="translate(360.5 368.9) scale(1 1.0)" text-anchor="middle" font-size="6.4" fill="#262626" textLength="23.3" lengthAdjust="spacingAndGlyphs">Iteration</text>
<text transform="translate(247.8 280) rotate(-90)" x="0" y="2.3" text-anchor="middle" font-size="6.6" fill="#262626" textLength="34.3" lengthAdjust="spacingAndGlyphs">Best Fitness</text>
<text transform="translate(361 205.8) scale(1 1.0)" text-anchor="middle" font-size="6.9" font-weight="bold" fill="#000" textLength="73.2" lengthAdjust="spacingAndGlyphs">Dataset: lungcancer.mat</text>
<g><rect x="412.9" y="212.3" width="39.1" height="71.1" fill="#fff" stroke="#555" stroke-width="0.5"/><path d="M414.8 216.4H431.7" stroke="#404040" stroke-width="0.6"/><text x="434" y="218.3" font-size="5.2" fill="#1a1a1a">IAS 1</text><path d="M414.8 223.4H431.7" stroke="#000000" stroke-width="0.5"/><path d="M423.2 223.4h0.01" stroke="none" fill="none" marker-start="url(#m17)"/><text x="434" y="225.3" font-size="5.2" fill="#1a1a1a">IAS 2</text><path d="M414.8 230.4H431.7" stroke="#606060" stroke-width="0.5" stroke-dasharray="0.6 1.2"/><path d="M423.2 230.4h0.01" stroke="none" fill="none" marker-start="url(#m1)"/><text x="434" y="232.3" font-size="5.2" fill="#1a1a1a">IAS 3</text><path d="M414.8 237.4H431.7" stroke="#555555" stroke-width="0.5" stroke-dasharray="0.6 1.2"/><path d="M423.2 237.4h0.01" stroke="none" fill="none" marker-start="url(#m18)"/><text x="434" y="239.3" font-size="5.2" fill="#1a1a1a">IAS 4</text><path d="M414.8 244.4H431.7" stroke="#ff0000" stroke-width="0.6" stroke-dasharray="0.6 1.2"/><text x="434" y="246.3" font-size="5.2" fill="#1a1a1a">IAS 5</text><path d="M414.8 251.4H431.7" stroke="#ff0000" stroke-width="0.5" stroke-dasharray="0.6 1.2"/><path d="M423.2 251.4h0.01" stroke="none" fill="none" marker-start="url(#m3)"/><text x="434" y="253.3" font-size="5.2" fill="#1a1a1a">IAS 6</text><path d="M414.8 258.4H431.7" stroke="#ff0000" stroke-width="0.8"/><path d="M423.2 258.4h0.01" stroke="none" fill="none" marker-start="url(#m19)"/><text x="434" y="260.3" font-size="5.2" fill="#1a1a1a">IAS 7</text><path d="M414.8 265.4H431.7" stroke="#ff0000" stroke-width="0.6"/><path d="M423.2 265.4h0.01" stroke="none" fill="none" marker-start="url(#m5)"/><text x="434" y="267.3" font-size="5.2" fill="#1a1a1a">IAS 8</text><path d="M414.8 272.4H431.7" stroke="#0000ff" stroke-width="0.6"/><path d="M423.2 272.4h0.01" stroke="none" fill="none" marker-start="url(#m6)"/><text x="434" y="274.3" font-size="5.2" fill="#1a1a1a">IAS 9</text><path d="M414.8 279.4H431.7" stroke="#7070ff" stroke-width="0.6"/><path d="M423.2 279.4h0.01" stroke="none" fill="none" marker-start="url(#m7)"/><text x="434" y="281.3" font-size="5.2" fill="#1a1a1a">IAS 10</text></g>
<g><path d="M29.9 462.3 31.7 462.3 33.6 462.3 35.4 462.3 37.3 462.3 39.1 462.3 41 462.3 42.8 462.3 44.7 462.3 46.5 462.3 48.4 462.3 50.2 486 52.1 486 53.9 486 55.8 486 57.6 486 59.5 486 61.3 486 63.2 486 65 491 66.9 491 68.7 491 70.6 491 72.4 491 74.3 491 76.1 491 78 491 79.8 491 81.7 491 83.5 491 85.4 491 87.2 491 89.1 493.2 90.9 493.2 92.8 493.2 94.6 493.2 96.5 509.7 98.3 509.7 100.2 509.7 102 509.7 103.9 509.7 105.7 509.7 107.6 509.7 109.4 509.7 111.3 509.7 113.1 509.7 115 509.7 116.8 509.7 118.7 509.7 120.5 509.7 122.4 509.7 124.3 509.7 126.1 509.7 128 509.7 129.8 509.7 131.7 509.7 133.5 509.7 135.4 509.7 137.2 509.7 139.1 509.7 140.9 509.7 142.8 509.7 144.6 509.7 146.5 509.7 148.3 509.7 150.2 509.7 152 509.7 153.9 509.7 155.7 509.7 157.6 509.7 159.4 509.7 161.3 509.7 163.1 509.7 165 509.7 166.8 509.7 168.7 509.7 170.5 509.7 172.4 509.7 174.2 509.7 176.1 509.7 177.9 509.7 179.8 509.7 181.6 509.7 183.5 509.7 185.3 509.7 187.2 509.7 189 509.7 190.9 509.7 192.7 509.7 194.6 509.7 196.4 509.7 198.3 509.7 200.1 509.7 202 509.7 203.8 509.7 205.7 509.7 207.5 509.7 209.4 509.7 211.2 509.7 213.1 509.7" fill="none" stroke="#a0a0a0" stroke-width="0.6"/><path d="M29.9 455.2 31.7 455.2 33.6 465.2 35.4 465.2 37.3 465.2 39.1 465.2 41 465.2 42.8 465.2 44.7 465.2 46.5 465.2 48.4 465.2 50.2 465.2 52.1 465.2 53.9 465.2 55.8 465.2 57.6 465.2 59.5 465.2 61.3 465.2 63.2 465.2 65 465.2 66.9 465.2 68.7 465.2 70.6 465.2 72.4 465.2 74.3 465.2 76.1 465.2 78 465.2 79.8 465.2 81.7 465.2 83.5 465.2 85.4 465.2 87.2 465.2 89.1 465.2 90.9 465.2 92.8 465.2 94.6 465.2 96.5 465.2 98.3 465.2 100.2 465.2 102 465.2 103.9 465.2 105.7 465.2 107.6 465.2 109.4 465.2 111.3 465.2 113.1 465.2 115 465.2 116.8 465.2 118.7 465.2 120.5 465.2 122.4 465.2 124.3 465.2 126.1 465.2 128 465.2 129.8 465.2 131.7 465.2 133.5 465.2 135.4 465.2 137.2 465.2 139.1 465.2 140.9 465.2 142.8 465.2 144.6 465.2 146.5 465.2 148.3 465.2 150.2 465.2 152 465.2 153.9 465.2 155.7 465.2 157.6 465.2 159.4 465.2 161.3 465.2 163.1 465.2 165 465.2 166.8 465.2 168.7 465.2 170.5 465.2 172.4 465.2 174.2 465.2 176.1 465.2 177.9 465.2 179.8 465.2 181.6 465.2 183.5 465.2 185.3 465.2 187.2 465.2 189 465.2 190.9 465.2 192.7 465.2 194.6 465.2 196.4 465.2 198.3 465.2 200.1 465.2 202 465.2 203.8 465.2 205.7 465.2 207.5 465.2 209.4 465.2 211.2 465.2 213.1 465.2" fill="none" stroke="#808080" stroke-width="0.5" marker-start="url(#m12)" marker-mid="url(#m12)" marker-end="url(#m12)"/><path d="M29.9 437.2 31.7 440 33.6 440 35.4 440 37.3 440 39.1 440 41 440 42.8 440 44.7 440 46.5 440 48.4 440 50.2 440 52.1 440 53.9 440 55.8 440 57.6 440 59.5 440 61.3 440 63.2 440 65 440 66.9 440 68.7 440 70.6 440 72.4 440 74.3 440 76.1 440 78 440 79.8 440 81.7 440 83.5 440 85.4 440 87.2 440 89.1 440 90.9 440 92.8 440 94.6 440 96.5 440 98.3 440 100.2 440 102 440 103.9 440 105.7 440 107.6 440 109.4 440 111.3 440 113.1 440 115 440 116.8 440 118.7 440 120.5 440 122.4 440 124.3 440 126.1 440 128 440 129.8 440 131.7 440 133.5 440 135.4 440 137.2 440 139.1 440 140.9 440 142.8 440 144.6 440 146.5 440 148.3 440 150.2 440 152 440 153.9 440 155.7 440 157.6 440 159.4 440 161.3 440 163.1 440 165 440 166.8 440 168.7 440 170.5 440 172.4 440 174.2 440 176.1 440 177.9 440 179.8 440 181.6 440 183.5 440 185.3 440 187.2 440 189 440 190.9 440 192.7 440 194.6 440 196.4 440 198.3 440 200.1 440 202 440 203.8 440 205.7 440 207.5 440 209.4 440 211.2 440 213.1 440" fill="none" stroke="#444444" stroke-width="0.5" stroke-dasharray="0.6 1.2" marker-start="url(#m9)" marker-mid="url(#m9)" marker-end="url(#m9)"/><path d="M29.9 458.8 31.7 458.8 33.6 458.8 35.4 458.8 37.3 458.8 39.1 474.5 41 474.5 42.8 481.7 44.7 481.7 46.5 481.7 48.4 481.7 50.2 481.7 52.1 492.5 53.9 492.5 55.8 492.5 57.6 492.5 59.5 492.5 61.3 492.5 63.2 492.5 65 492.5 66.9 494.6 68.7 494.6 70.6 494.6 72.4 494.6 74.3 494.6 76.1 504.7 78 504.7 79.8 504.7 81.7 504.7 83.5 504.7 85.4 504.7 87.2 504.7 89.1 504.7 90.9 504.7 92.8 504.7 94.6 504.7 96.5 519 98.3 519 100.2 519 102 519 103.9 519 105.7 519 107.6 519 109.4 519 111.3 519 113.1 519 115 519 116.8 519 118.7 519 120.5 519 122.4 519 124.3 519 126.1 519 128 519 129.8 519 131.7 519 133.5 519 135.4 519 137.2 519 139.1 520.5 140.9 520.5 142.8 520.5 144.6 520.5 146.5 520.5 148.3 520.5 150.2 520.5 152 520.5 153.9 520.5 155.7 520.5 157.6 520.5 159.4 520.5 161.3 520.5 163.1 520.5 165 520.5 166.8 520.5 168.7 520.5 170.5 520.5 172.4 520.5 174.2 520.5 176.1 520.5 177.9 520.5 179.8 520.5 181.6 520.5 183.5 520.5 185.3 520.5 187.2 520.5 189 520.5 190.9 520.5 192.7 520.5 194.6 520.5 196.4 520.5 198.3 520.5 200.1 520.5 202 520.5 203.8 520.5 205.7 520.5 207.5 520.5 209.4 520.5 211.2 520.5 213.1 520.5" fill="none" stroke="#383838" stroke-width="0.5" stroke-dasharray="0.6 1.2" marker-start="url(#m2)" marker-mid="url(#m2)" marker-end="url(#m2)"/><path d="M29.9 416.4 31.7 416.4 33.6 416.4 35.4 419.3 37.3 419.3 39.1 419.3 41 440.8 42.8 440.8 44.7 440.8 46.5 440.8 48.4 440.8 50.2 440.8 52.1 458 53.9 458 55.8 458 57.6 458 59.5 458 61.3 458 63.2 458 65 458 66.9 458 68.7 458 70.6 458 72.4 458 74.3 458 76.1 458 78 458 79.8 514 81.7 514 83.5 514 85.4 520.5 87.2 520.5 89.1 520.5 90.9 520.5 92.8 520.5 94.6 520.5 96.5 520.5 98.3 520.5 100.2 520.5 102 520.5 103.9 520.5 105.7 520.5 107.6 520.5 109.4 520.5 111.3 520.5 113.1 520.5 115 520.5 116.8 520.5 118.7 520.5 120.5 520.5 122.4 520.5 124.3 520.5 126.1 520.5 128 520.5 129.8 520.5 131.7 520.5 133.5 520.5 135.4 520.5 137.2 520.5 139.1 520.5 140.9 520.5 142.8 520.5 144.6 520.5 146.5 520.5 148.3 520.5 150.2 520.5 152 520.5 153.9 520.5 155.7 520.5 157.6 520.5 159.4 520.5 161.3 520.5 163.1 520.5 165 520.5 166.8 520.5 168.7 520.5 170.5 520.5 172.4 520.5 174.2 520.5 176.1 520.5 177.9 520.5 179.8 520.5 181.6 520.5 183.5 520.5 185.3 520.5 187.2 520.5 189 520.5 190.9 520.5 192.7 520.5 194.6 520.5 196.4 520.5 198.3 520.5 200.1 520.5 202 520.5 203.8 520.5 205.7 520.5 207.5 520.5 209.4 520.5 211.2 520.5 213.1 520.5" fill="none" stroke="#ff0000" stroke-width="0.6" stroke-dasharray="0.6 1.2"/><path d="M29.9 422.9 31.7 422.9 33.6 438.8 35.4 438.8 37.3 438.8 39.1 438.8 41 438.8 42.8 438.8 44.7 438.8 46.5 438.8 48.4 438.8 50.2 438.8 52.1 438.8 53.9 438.8 55.8 438.8 57.6 438.8 59.5 438.8 61.3 438.8 63.2 438.8 65 438.8 66.9 438.8 68.7 438.8 70.6 438.8 72.4 438.8 74.3 438.8 76.1 438.8 78 438.8 79.8 438.8 81.7 438.8 83.5 438.8 85.4 438.8 87.2 438.8 89.1 438.8 90.9 438.8 92.8 438.8 94.6 438.8 96.5 438.8 98.3 438.8 100.2 438.8 102 438.8 103.9 438.8 105.7 438.8 107.6 438.8 109.4 438.8 111.3 438.8 113.1 438.8 115 438.8 116.8 438.8 118.7 438.8 120.5 438.8 122.4 438.8 124.3 438.8 126.1 438.8 128 438.8 129.8 438.8 131.7 438.8 133.5 438.8 135.4 438.8 137.2 438.8 139.1 438.8 140.9 438.8 142.8 438.8 144.6 438.8 146.5 438.8 148.3 438.8 150.2 438.8 152 438.8 153.9 438.8 155.7 438.8 157.6 438.8 159.4 438.8 161.3 438.8 163.1 438.8 165 438.8 166.8 438.8 168.7 438.8 170.5 438.8 172.4 438.8 174.2 438.8 176.1 438.8 177.9 438.8 179.8 438.8 181.6 438.8 183.5 438.8 185.3 438.8 187.2 438.8 189 438.8 190.9 438.8 192.7 438.8 194.6 438.8 196.4 438.8 198.3 438.8 200.1 438.8 202 438.8 203.8 438.8 205.7 438.8 207.5 438.8 209.4 438.8 211.2 438.8 213.1 438.8" fill="none" stroke="#ff6060" stroke-width="0.5" stroke-dasharray="0.6 1.2" marker-start="url(#m20)" marker-mid="url(#m20)" marker-end="url(#m20)"/><path d="M29.9 396.3 31.7 404.9 33.6 404.9 35.4 404.9 37.3 404.9 39.1 404.9 41 404.9 42.8 404.9 44.7 404.9 46.5 404.9 48.4 404.9 50.2 404.9 52.1 404.9 53.9 404.9 55.8 404.9 57.6 404.9 59.5 406.4 61.3 406.4 63.2 406.4 65 406.4 66.9 406.4 68.7 406.4 70.6 406.4 72.4 406.4 74.3 406.4 76.1 406.4 78 406.4 79.8 406.4 81.7 426.5 83.5 442.2 85.4 442.2 87.2 442.2 89.1 442.2 90.9 486 92.8 486 94.6 486 96.5 486 98.3 486 100.2 486 102 486 103.9 486 105.7 486 107.6 486 109.4 486 111.3 486 113.1 486 115 486 116.8 486 118.7 486 120.5 486 122.4 486 124.3 486 126.1 486 128 486 129.8 486 131.7 486 133.5 486 135.4 486 137.2 486 139.1 486 140.9 486 142.8 486 144.6 486 146.5 486 148.3 486 150.2 486 152 486 153.9 486 155.7 486 157.6 486 159.4 486 161.3 486 163.1 486 165 486 166.8 486 168.7 486 170.5 486 172.4 486 174.2 486 176.1 486 177.9 486 179.8 486 181.6 486 183.5 486 185.3 486 187.2 486 189 486 190.9 486 192.7 486 194.6 486 196.4 486 198.3 486 200.1 486 202 486 203.8 486 205.7 486 207.5 486 209.4 486 211.2 486 213.1 486" fill="none" stroke="#ff0000" stroke-width="0.6" marker-start="url(#m11)" marker-mid="url(#m11)" marker-end="url(#m11)"/><path d="M29.9 451.6 31.7 451.6 33.6 451.6 35.4 463.1 37.3 463.1 39.1 463.1 41 463.1 42.8 463.1 44.7 463.1 46.5 465.2 48.4 465.2 50.2 465.2 52.1 465.2 53.9 465.2 55.8 465.2 57.6 465.2 59.5 465.2 61.3 465.2 63.2 465.2 65 465.2 66.9 465.2 68.7 465.2 70.6 465.2 72.4 465.2 74.3 465.2 76.1 465.2 78 465.2 79.8 465.2 81.7 465.2 83.5 465.2 85.4 465.2 87.2 465.2 89.1 465.2 90.9 465.2 92.8 465.2 94.6 465.2 96.5 465.2 98.3 465.2 100.2 465.2 102 465.2 103.9 465.2 105.7 465.2 107.6 465.2 109.4 465.2 111.3 465.2 113.1 465.2 115 465.2 116.8 465.2 118.7 465.2 120.5 465.2 122.4 465.2 124.3 465.2 126.1 465.2 128 465.2 129.8 465.2 131.7 465.2 133.5 465.2 135.4 465.2 137.2 465.2 139.1 465.2 140.9 465.2 142.8 465.2 144.6 465.2 146.5 465.2 148.3 465.2 150.2 465.2 152 465.2 153.9 465.2 155.7 465.2 157.6 465.2 159.4 465.2 161.3 465.2 163.1 465.2 165 465.2 166.8 465.2 168.7 465.2 170.5 465.2 172.4 465.2 174.2 465.2 176.1 465.2 177.9 465.2 179.8 465.2 181.6 465.2 183.5 465.2 185.3 465.2 187.2 465.2 189 465.2 190.9 465.2 192.7 465.2 194.6 465.2 196.4 465.2 198.3 465.2 200.1 465.2 202 465.2 203.8 465.2 205.7 465.2 207.5 465.2 209.4 465.2 211.2 465.2 213.1 465.2" fill="none" stroke="#ff0000" stroke-width="0.6" marker-start="url(#m5)" marker-mid="url(#m5)" marker-end="url(#m5)"/><path d="M29.9 426.5 31.7 453 33.6 453 35.4 453 37.3 453 39.1 453 41 453 42.8 453 44.7 453 46.5 453 48.4 453 50.2 453 52.1 453 53.9 453 55.8 453 57.6 453 59.5 453 61.3 453 63.2 453 65 453 66.9 453 68.7 453 70.6 453 72.4 453 74.3 453 76.1 453 78 453 79.8 453 81.7 454.8 83.5 454.8 85.4 454.8 87.2 454.8 89.1 454.8 90.9 454.8 92.8 454.8 94.6 454.8 96.5 454.8 98.3 454.8 100.2 454.8 102 454.8 103.9 454.8 105.7 454.8 107.6 454.8 109.4 454.8 111.3 454.8 113.1 454.8 115 454.8 116.8 454.8 118.7 454.8 120.5 454.8 122.4 454.8 124.3 454.8 126.1 454.8 128 454.8 129.8 454.8 131.7 454.8 133.5 454.8 135.4 454.8 137.2 454.8 139.1 454.8 140.9 454.8 142.8 454.8 144.6 454.8 146.5 454.8 148.3 454.8 150.2 454.8 152 454.8 153.9 454.8 155.7 454.8 157.6 454.8 159.4 454.8 161.3 454.8 163.1 454.8 165 454.8 166.8 454.8 168.7 454.8 170.5 454.8 172.4 454.8 174.2 454.8 176.1 454.8 177.9 454.8 179.8 454.8 181.6 454.8 183.5 454.8 185.3 454.8 187.2 454.8 189 454.8 190.9 454.8 192.7 454.8 194.6 454.8 196.4 454.8 198.3 454.8 200.1 454.8 202 454.8 203.8 454.8 205.7 454.8 207.5 454.8 209.4 454.8 211.2 454.8 213.1 454.8" fill="none" stroke="#0000ff" stroke-width="0.6" marker-start="url(#m6)" marker-mid="url(#m6)" marker-end="url(#m6)"/><path d="M29.9 422.9 31.7 453 33.6 453 35.4 453 37.3 453 39.1 453 41 453 42.8 453 44.7 453 46.5 453 48.4 453 50.2 453 52.1 453 53.9 453 55.8 453 57.6 453 59.5 453 61.3 453 63.2 453 65 453 66.9 453 68.7 453 70.6 453 72.4 453 74.3 453 76.1 453 78 453 79.8 453 81.7 454.8 83.5 454.8 85.4 454.8 87.2 454.8 89.1 454.8 90.9 454.8 92.8 454.8 94.6 454.8 96.5 454.8 98.3 454.8 100.2 454.8 102 454.8 103.9 454.8 105.7 454.8 107.6 454.8 109.4 454.8 111.3 454.8 113.1 454.8 115 454.8 116.8 454.8 118.7 454.8 120.5 454.8 122.4 454.8 124.3 454.8 126.1 454.8 128 454.8 129.8 454.8 131.7 454.8 133.5 454.8 135.4 454.8 137.2 454.8 139.1 454.8 140.9 454.8 142.8 454.8 144.6 454.8 146.5 454.8 148.3 454.8 150.2 454.8 152 454.8 153.9 454.8 155.7 454.8 157.6 454.8 159.4 454.8 161.3 454.8 163.1 454.8 165 454.8 166.8 454.8 168.7 454.8 170.5 454.8 172.4 454.8 174.2 454.8 176.1 454.8 177.9 454.8 179.8 454.8 181.6 454.8 183.5 454.8 185.3 454.8 187.2 454.8 189 454.8 190.9 454.8 192.7 454.8 194.6 454.8 196.4 454.8 198.3 454.8 200.1 454.8 202 454.8 203.8 454.8 205.7 454.8 207.5 454.8 209.4 454.8 211.2 454.8 213.1 454.8" fill="none" stroke="#7070ff" stroke-width="0.6" marker-start="url(#m7)" marker-mid="url(#m7)" marker-end="url(#m7)"/></g>
<path d="M28 387V530.5H213.1" fill="none" stroke="#262626" stroke-width="0.5"/><path d="M28 530.5h1.6M28 516.1h1.6M28 501.8h1.6M28 487.4h1.6M28 473.1h1.6M28 458.8h1.6M28 444.4h1.6M28 430.1h1.6M28 415.7h1.6M28 401.4h1.6M28 387h1.6M28 530.5v-1.6M65 530.5v-1.6M102 530.5v-1.6M139.1 530.5v-1.6M176.1 530.5v-1.6M213.1 530.5v-1.6" stroke="#262626" stroke-width="0.5"/>
<g fill="#262626"><text transform="translate(25.3 533.1) scale(0.92 1.0)" text-anchor="end" font-size="6.3">2.4</text><text transform="translate(25.3 518.7) scale(0.92 1.0)" text-anchor="end" font-size="6.3">2.6</text><text transform="translate(25.3 504.4) scale(0.92 1.0)" text-anchor="end" font-size="6.3">2.8</text><text transform="translate(25.3 490) scale(0.92 1.0)" text-anchor="end" font-size="6.3">3</text><text transform="translate(25.3 475.7) scale(0.92 1.0)" text-anchor="end" font-size="6.3">3.2</text><text transform="translate(25.3 461.3) scale(0.92 1.0)" text-anchor="end" font-size="6.3">3.4</text><text transform="translate(25.3 447) scale(0.92 1.0)" text-anchor="end" font-size="6.3">3.6</text><text transform="translate(25.3 432.6) scale(0.92 1.0)" text-anchor="end" font-size="6.3">3.8</text><text transform="translate(25.3 418.3) scale(0.92 1.0)" text-anchor="end" font-size="6.3">4</text><text transform="translate(25.3 403.9) scale(0.92 1.0)" text-anchor="end" font-size="6.3">4.2</text><text transform="translate(25.3 389.6) scale(0.92 1.0)" text-anchor="end" font-size="6.3">4.4</text><text transform="translate(28 538.6) scale(0.92 1.0)" text-anchor="middle" font-size="6.3">0</text><text transform="translate(65 538.6) scale(0.92 1.0)" text-anchor="middle" font-size="6.3">20</text><text transform="translate(102 538.6) scale(0.92 1.0)" text-anchor="middle" font-size="6.3">40</text><text transform="translate(139.1 538.6) scale(0.92 1.0)" text-anchor="middle" font-size="6.3">60</text><text transform="translate(176.1 538.6) scale(0.92 1.0)" text-anchor="middle" font-size="6.3">80</text><text transform="translate(213.1 538.6) scale(0.92 1.0)" text-anchor="middle" font-size="6.3">100</text></g>
<path d="M29.2 382.8l2.2 2.2M29.2 385l2.2 -2.2" stroke="#262626" stroke-width="0.55" fill="none"/>
<text x="32.9" y="386.1" font-size="5.6" fill="#262626">10</text>
<text x="39" y="382.6" font-size="4.3" fill="#262626">12</text>
<text transform="translate(120.2 545.8) scale(1 1.0)" text-anchor="middle" font-size="6.3" fill="#262626" textLength="22.7" lengthAdjust="spacingAndGlyphs">Iteration</text>
<text transform="translate(12.8 459) rotate(-90)" x="0" y="2.3" text-anchor="middle" font-size="6.6" fill="#262626" textLength="32.7" lengthAdjust="spacingAndGlyphs">Best Fitness</text>
<text transform="translate(121.4 385.2) scale(1 1.0)" text-anchor="middle" font-size="6.9" font-weight="bold" fill="#000" textLength="60.6" lengthAdjust="spacingAndGlyphs">Dataset: speech.mat</text>
<g><rect x="171.1" y="391.5" width="37.6" height="70" fill="#fff" stroke="#555" stroke-width="0.5"/><path d="M173.1 395.8H189.4" stroke="#a0a0a0" stroke-width="0.6"/><text x="191.4" y="397.7" font-size="5.3" fill="#1a1a1a">IAS 1</text><path d="M173.1 402.7H189.4" stroke="#808080" stroke-width="0.5"/><path d="M181.2 402.7h0.01" stroke="none" fill="none" marker-start="url(#m12)"/><text x="191.4" y="404.6" font-size="5.3" fill="#1a1a1a">IAS 2</text><path d="M173.1 409.5H189.4" stroke="#444444" stroke-width="0.5" stroke-dasharray="0.6 1.2"/><path d="M181.2 409.5h0.01" stroke="none" fill="none" marker-start="url(#m9)"/><text x="191.4" y="411.4" font-size="5.3" fill="#1a1a1a">IAS 3</text><path d="M173.1 416.4H189.4" stroke="#383838" stroke-width="0.5" stroke-dasharray="0.6 1.2"/><path d="M181.2 416.4h0.01" stroke="none" fill="none" marker-start="url(#m2)"/><text x="191.4" y="418.3" font-size="5.3" fill="#1a1a1a">IAS 4</text><path d="M173.1 423.3H189.4" stroke="#ff0000" stroke-width="0.6" stroke-dasharray="0.6 1.2"/><text x="191.4" y="425.2" font-size="5.3" fill="#1a1a1a">IAS 5</text><path d="M173.1 430.2H189.4" stroke="#ff6060" stroke-width="0.5" stroke-dasharray="0.6 1.2"/><path d="M181.2 430.2h0.01" stroke="none" fill="none" marker-start="url(#m20)"/><text x="191.4" y="432.1" font-size="5.3" fill="#1a1a1a">IAS 6</text><path d="M173.1 437H189.4" stroke="#ff0000" stroke-width="0.6"/><path d="M181.2 437h0.01" stroke="none" fill="none" marker-start="url(#m11)"/><text x="191.4" y="438.9" font-size="5.3" fill="#1a1a1a">IAS 7</text><path d="M173.1 443.9H189.4" stroke="#ff0000" stroke-width="0.6"/><path d="M181.2 443.9h0.01" stroke="none" fill="none" marker-start="url(#m5)"/><text x="191.4" y="445.8" font-size="5.3" fill="#1a1a1a">IAS 8</text><path d="M173.1 450.8H189.4" stroke="#0000ff" stroke-width="0.6"/><path d="M181.2 450.8h0.01" stroke="none" fill="none" marker-start="url(#m6)"/><text x="191.4" y="452.7" font-size="5.3" fill="#1a1a1a">IAS 9</text><path d="M173.1 457.6H189.4" stroke="#7070ff" stroke-width="0.6"/><path d="M181.2 457.6h0.01" stroke="none" fill="none" marker-start="url(#m7)"/><text x="191.4" y="459.5" font-size="5.3" fill="#1a1a1a">IAS 10</text></g>
<g><path d="M262.7 463.7 264.7 478.2 266.8 478.2 268.8 478.2 270.9 478.2 273 478.2 275 478.2 277.1 478.2 279.1 478.2 281.2 478.2 283.2 478.2 285.3 478.2 287.4 478.2 289.4 478.2 291.5 478.2 293.5 478.2 295.6 478.2 297.7 478.2 299.7 478.2 301.8 478.2 303.8 478.2 305.9 478.2 308 478.2 310 478.2 312.1 478.2 314.1 478.2 316.2 478.2 318.3 478.2 320.3 478.2 322.4 478.2 324.4 478.2 326.5 478.2 328.5 478.2 330.6 478.2 332.7 478.2 334.7 478.2 336.8 478.2 338.8 478.2 340.9 478.2 343 478.2 345 478.2 347.1 478.2 349.1 478.2 351.2 478.2 353.3 478.2 355.3 478.2 357.4 478.2 359.4 478.2 361.5 478.2 363.6 478.2 365.6 478.2 367.7 478.2 369.7 478.2 371.8 478.2 373.8 478.2 375.9 478.2 378 478.2 380 478.2 382.1 478.2 384.1 478.2 386.2 478.2 388.3 478.2 390.3 478.2 392.4 478.2 394.4 478.2 396.5 478.2 398.6 478.2 400.6 478.2 402.7 478.2 404.7 478.2 406.8 478.2 408.8 478.2 410.9 478.2 413 478.2 415 478.2 417.1 478.2 419.1 516.9 421.2 516.9 423.3 516.9 425.3 516.9 427.4 516.9 429.4 516.9 431.5 516.9 433.6 516.9 435.6 516.9 437.7 516.9 439.7 516.9 441.8 516.9 443.9 516.9 445.9 516.9 448 516.9 450 516.9 452.1 516.9 454.1 516.9 456.2 516.9 458.3 516.9 460.3 516.9 462.4 516.9 464.4 516.9 466.5 516.9" fill="none" stroke="#333333" stroke-width="0.7" marker-start="url(#m21)" marker-mid="url(#m21)" marker-end="url(#m21)"/><path d="M262.7 463.7 264.7 463.7 266.8 463.7 268.8 463.7 270.9 493.4 273 493.4 275 493.4 277.1 493.4 279.1 493.4 281.2 493.4 283.2 494.8 285.3 494.8 287.4 494.8 289.4 494.8 291.5 494.8 293.5 494.8 295.6 494.8 297.7 494.8 299.7 494.8 301.8 494.8 303.8 494.8 305.9 494.8 308 494.8 310 494.8 312.1 494.8 314.1 494.8 316.2 494.8 318.3 494.8 320.3 494.8 322.4 494.8 324.4 494.8 326.5 494.8 328.5 494.8 330.6 494.8 332.7 494.8 334.7 494.8 336.8 494.8 338.8 494.8 340.9 494.8 343 494.8 345 494.8 347.1 494.8 349.1 494.8 351.2 494.8 353.3 494.8 355.3 494.8 357.4 494.8 359.4 494.8 361.5 494.8 363.6 494.8 365.6 494.8 367.7 494.8 369.7 494.8 371.8 494.8 373.8 494.8 375.9 494.8 378 494.8 380 494.8 382.1 494.8 384.1 494.8 386.2 494.8 388.3 494.8 390.3 494.8 392.4 494.8 394.4 494.8 396.5 494.8 398.6 494.8 400.6 494.8 402.7 494.8 404.7 494.8 406.8 494.8 408.8 494.8 410.9 494.8 413 494.8 415 494.8 417.1 494.8 419.1 494.8 421.2 494.8 423.3 494.8 425.3 494.8 427.4 494.8 429.4 494.8 431.5 494.8 433.6 494.8 435.6 494.8 437.7 494.8 439.7 494.8 441.8 494.8 443.9 494.8 445.9 494.8 448 494.8 450 494.8 452.1 494.8 454.1 494.8 456.2 494.8 458.3 494.8 460.3 494.8 462.4 494.8 464.4 494.8 466.5 494.8" fill="none" stroke="#000000" stroke-width="0.5" marker-start="url(#m12)" marker-mid="url(#m12)" marker-end="url(#m12)"/><path d="M262.7 395.3 264.7 428.5 266.8 446.4 268.8 453.3 270.9 458.9 273 463.7 275 463.7 277.1 463.7 279.1 463.7 281.2 468.5 283.2 468.5 285.3 470.6 287.4 470.6 289.4 470.6 291.5 470.6 293.5 470.6 295.6 470.6 297.7 470.6 299.7 470.6 301.8 478.9 303.8 478.9 305.9 478.9 308 478.9 310 478.9 312.1 478.9 314.1 478.9 316.2 478.9 318.3 478.9 320.3 478.9 322.4 478.9 324.4 478.9 326.5 478.9 328.5 478.9 330.6 478.9 332.7 478.9 334.7 478.9 336.8 478.9 338.8 478.9 340.9 478.9 343 478.9 345 478.9 347.1 478.9 349.1 478.9 351.2 478.9 353.3 478.9 355.3 478.9 357.4 478.9 359.4 478.9 361.5 478.9 363.6 478.9 365.6 478.9 367.7 478.9 369.7 478.9 371.8 478.9 373.8 478.9 375.9 478.9 378 478.9 380 478.9 382.1 478.9 384.1 478.9 386.2 478.9 388.3 478.9 390.3 478.9 392.4 478.9 394.4 478.9 396.5 478.9 398.6 478.9 400.6 478.9 402.7 478.9 404.7 478.9 406.8 478.9 408.8 478.9 410.9 478.9 413 478.9 415 478.9 417.1 478.9 419.1 478.9 421.2 478.9 423.3 480.3 425.3 480.3 427.4 480.3 429.4 480.3 431.5 480.3 433.6 480.3 435.6 480.3 437.7 480.3 439.7 480.3 441.8 480.3 443.9 480.3 445.9 480.3 448 480.3 450 480.3 452.1 480.3 454.1 480.3 456.2 480.3 458.3 480.3 460.3 480.3 462.4 480.3 464.4 480.3 466.5 480.3" fill="none" stroke="#444444" stroke-width="0.5" stroke-dasharray="0.6 1.2" marker-start="url(#m9)" marker-mid="url(#m9)" marker-end="url(#m9)"/><path d="M262.7 463.7 264.7 463.7 266.8 468.5 268.8 468.5 270.9 468.5 273 468.5 275 470.6 277.1 470.6 279.1 470.6 281.2 470.6 283.2 470.6 285.3 470.6 287.4 470.6 289.4 470.6 291.5 470.6 293.5 470.6 295.6 470.6 297.7 470.6 299.7 470.6 301.8 478.9 303.8 478.9 305.9 478.9 308 478.9 310 478.9 312.1 478.9 314.1 478.9 316.2 478.9 318.3 478.9 320.3 478.9 322.4 495.5 324.4 495.5 326.5 495.5 328.5 495.5 330.6 495.5 332.7 495.5 334.7 495.5 336.8 495.5 338.8 495.5 340.9 495.5 343 495.5 345 495.5 347.1 495.5 349.1 495.5 351.2 495.5 353.3 495.5 355.3 495.5 357.4 495.5 359.4 495.5 361.5 495.5 363.6 495.5 365.6 495.5 367.7 495.5 369.7 495.5 371.8 495.5 373.8 495.5 375.9 495.5 378 495.5 380 495.5 382.1 495.5 384.1 495.5 386.2 495.5 388.3 495.5 390.3 495.5 392.4 495.5 394.4 495.5 396.5 495.5 398.6 495.5 400.6 495.5 402.7 495.5 404.7 495.5 406.8 495.5 408.8 495.5 410.9 495.5 413 495.5 415 495.5 417.1 495.5 419.1 495.5 421.2 495.5 423.3 495.5 425.3 495.5 427.4 495.5 429.4 495.5 431.5 495.5 433.6 495.5 435.6 495.5 437.7 495.5 439.7 495.5 441.8 495.5 443.9 495.5 445.9 495.5 448 495.5 450 495.5 452.1 495.5 454.1 495.5 456.2 495.5 458.3 495.5 460.3 495.5 462.4 495.5 464.4 495.5 466.5 495.5" fill="none" stroke="#383838" stroke-width="0.5" stroke-dasharray="0.6 1.2" marker-start="url(#m2)" marker-mid="url(#m2)" marker-end="url(#m2)"/><path d="M262.7 474.8 264.7 474.8 266.8 474.8 268.8 474.8 270.9 474.8 273 474.8 275 474.8 277.1 474.8 279.1 474.8 281.2 474.8 283.2 474.8 285.3 474.8 287.4 474.8 289.4 474.8 291.5 474.8 293.5 474.8 295.6 474.8 297.7 474.8 299.7 474.8 301.8 474.8 303.8 474.8 305.9 474.8 308 474.8 310 474.8 312.1 474.8 314.1 474.8 316.2 474.8 318.3 474.8 320.3 474.8 322.4 474.8 324.4 474.8 326.5 474.8 328.5 474.8 330.6 474.8 332.7 487.2 334.7 487.2 336.8 487.2 338.8 487.2 340.9 487.2 343 487.2 345 487.2 347.1 487.2 349.1 487.2 351.2 487.2 353.3 487.2 355.3 487.2 357.4 487.2 359.4 487.2 361.5 487.2 363.6 487.2 365.6 487.2 367.7 487.2 369.7 487.2 371.8 487.2 373.8 487.2 375.9 487.2 378 487.2 380 487.2 382.1 487.2 384.1 487.2 386.2 487.2 388.3 487.2 390.3 487.2 392.4 487.2 394.4 487.2 396.5 487.2 398.6 487.2 400.6 487.2 402.7 487.2 404.7 487.2 406.8 487.2 408.8 487.2 410.9 487.2 413 487.2 415 487.2 417.1 487.2 419.1 487.2 421.2 487.2 423.3 487.2 425.3 487.2 427.4 487.2 429.4 487.2 431.5 487.2 433.6 487.2 435.6 487.2 437.7 487.2 439.7 487.2 441.8 487.2 443.9 487.2 445.9 487.2 448 487.2 450 487.2 452.1 487.2 454.1 487.2 456.2 487.2 458.3 487.2 460.3 487.2 462.4 487.2 464.4 487.2 466.5 487.2" fill="none" stroke="#ff0000" stroke-width="0.6" stroke-dasharray="0.6 1.2"/><path d="M262.7 490.6 264.7 490.6 266.8 490.6 268.8 490.6 270.9 490.6 273 490.6 275 490.6 277.1 490.6 279.1 490.6 281.2 490.6 283.2 490.6 285.3 490.6 287.4 490.6 289.4 490.6 291.5 490.6 293.5 490.6 295.6 490.6 297.7 490.6 299.7 490.6 301.8 490.6 303.8 490.6 305.9 490.6 308 490.6 310 490.6 312.1 490.6 314.1 490.6 316.2 497.5 318.3 497.5 320.3 497.5 322.4 497.5 324.4 497.5 326.5 497.5 328.5 497.5 330.6 497.5 332.7 497.5 334.7 497.5 336.8 497.5 338.8 497.5 340.9 497.5 343 497.5 345 497.5 347.1 497.5 349.1 497.5 351.2 497.5 353.3 497.5 355.3 497.5 357.4 497.5 359.4 497.5 361.5 497.5 363.6 497.5 365.6 497.5 367.7 497.5 369.7 497.5 371.8 497.5 373.8 497.5 375.9 497.5 378 497.5 380 497.5 382.1 497.5 384.1 497.5 386.2 497.5 388.3 497.5 390.3 497.5 392.4 497.5 394.4 497.5 396.5 497.5 398.6 497.5 400.6 497.5 402.7 497.5 404.7 497.5 406.8 497.5 408.8 497.5 410.9 497.5 413 497.5 415 497.5 417.1 497.5 419.1 497.5 421.2 497.5 423.3 497.5 425.3 497.5 427.4 497.5 429.4 497.5 431.5 497.5 433.6 497.5 435.6 497.5 437.7 497.5 439.7 497.5 441.8 497.5 443.9 497.5 445.9 497.5 448 497.5 450 497.5 452.1 497.5 454.1 497.5 456.2 497.5 458.3 497.5 460.3 497.5 462.4 497.5 464.4 497.5 466.5 497.5" fill="none" stroke="#ff0000" stroke-width="0.5" stroke-dasharray="0.6 1.2" marker-start="url(#m3)" marker-mid="url(#m3)" marker-end="url(#m3)"/><path d="M262.7 453.3 264.7 453.3 266.8 453.3 268.8 453.3 270.9 460.2 273 460.2 275 460.2 277.1 460.2 279.1 460.2 281.2 460.2 283.2 460.2 285.3 460.2 287.4 460.2 289.4 460.2 291.5 460.2 293.5 460.2 295.6 460.2 297.7 460.2 299.7 460.2 301.8 460.2 303.8 475.4 305.9 475.4 308 475.4 310 475.4 312.1 475.4 314.1 475.4 316.2 487.2 318.3 487.2 320.3 487.2 322.4 487.2 324.4 487.2 326.5 487.2 328.5 487.2 330.6 487.2 332.7 487.2 334.7 487.2 336.8 487.2 338.8 487.2 340.9 487.2 343 487.2 345 487.2 347.1 487.2 349.1 487.2 351.2 487.2 353.3 487.2 355.3 487.2 357.4 487.2 359.4 487.2 361.5 487.2 363.6 487.2 365.6 487.2 367.7 487.2 369.7 487.2 371.8 487.2 373.8 487.2 375.9 487.2 378 487.2 380 487.2 382.1 487.2 384.1 487.2 386.2 487.2 388.3 487.2 390.3 487.2 392.4 487.2 394.4 487.2 396.5 487.2 398.6 487.2 400.6 487.2 402.7 487.2 404.7 487.2 406.8 487.2 408.8 487.2 410.9 487.2 413 487.2 415 487.2 417.1 487.2 419.1 487.2 421.2 487.2 423.3 487.2 425.3 487.2 427.4 487.2 429.4 487.2 431.5 487.2 433.6 487.2 435.6 487.2 437.7 487.2 439.7 487.2 441.8 487.2 443.9 487.2 445.9 487.2 448 487.2 450 487.2 452.1 487.2 454.1 487.2 456.2 487.2 458.3 487.2 460.3 487.2 462.4 487.2 464.4 487.2 466.5 487.2" fill="none" stroke="#ff0000" stroke-width="0.5" stroke-dasharray="0.6 1.2" marker-start="url(#m11)" marker-mid="url(#m11)" marker-end="url(#m11)"/><path d="M262.7 453.3 264.7 480.1 266.8 480.1 268.8 480.1 270.9 480.1 273 480.1 275 480.1 277.1 480.1 279.1 480.1 281.2 480.1 283.2 480.1 285.3 480.1 287.4 480.1 289.4 480.1 291.5 480.1 293.5 480.1 295.6 480.1 297.7 480.1 299.7 480.1 301.8 480.1 303.8 480.1 305.9 480.1 308 480.1 310 480.1 312.1 480.1 314.1 480.1 316.2 480.1 318.3 480.1 320.3 480.1 322.4 480.1 324.4 480.1 326.5 480.1 328.5 480.1 330.6 480.1 332.7 480.1 334.7 480.1 336.8 480.1 338.8 480.1 340.9 480.1 343 480.1 345 480.1 347.1 480.1 349.1 480.1 351.2 480.1 353.3 480.1 355.3 480.1 357.4 480.1 359.4 480.1 361.5 480.1 363.6 480.1 365.6 480.1 367.7 480.1 369.7 480.1 371.8 480.1 373.8 480.1 375.9 480.1 378 480.1 380 480.1 382.1 480.1 384.1 480.1 386.2 480.1 388.3 480.1 390.3 480.1 392.4 480.1 394.4 480.1 396.5 480.1 398.6 480.1 400.6 480.1 402.7 480.1 404.7 480.1 406.8 480.1 408.8 480.1 410.9 480.1 413 480.1 415 480.1 417.1 480.1 419.1 480.1 421.2 480.1 423.3 507.2 425.3 507.2 427.4 507.2 429.4 507.2 431.5 507.2 433.6 507.2 435.6 507.2 437.7 507.2 439.7 507.2 441.8 507.2 443.9 507.2 445.9 507.2 448 507.2 450 507.2 452.1 507.2 454.1 507.2 456.2 507.2 458.3 507.2 460.3 507.2 462.4 507.2 464.4 507.2 466.5 507.2" fill="none" stroke="#ff0000" stroke-width="0.6" marker-start="url(#m5)" marker-mid="url(#m5)" marker-end="url(#m5)"/><path d="M262.7 446.4 264.7 446.4 266.8 446.4 268.8 446.4 270.9 485.1 273 485.1 275 485.1 277.1 485.1 279.1 485.1 281.2 485.1 283.2 485.1 285.3 485.1 287.4 485.1 289.4 502.4 291.5 502.4 293.5 502.4 295.6 502.4 297.7 502.4 299.7 502.4 301.8 502.4 303.8 502.4 305.9 502.4 308 502.4 310 502.4 312.1 502.4 314.1 502.4 316.2 502.4 318.3 502.4 320.3 502.4 322.4 502.4 324.4 502.4 326.5 502.4 328.5 502.4 330.6 502.4 332.7 502.4 334.7 502.4 336.8 502.4 338.8 502.4 340.9 502.4 343 502.4 345 502.4 347.1 502.4 349.1 502.4 351.2 502.4 353.3 502.4 355.3 502.4 357.4 502.4 359.4 502.4 361.5 502.4 363.6 502.4 365.6 502.4 367.7 502.4 369.7 502.4 371.8 502.4 373.8 502.4 375.9 502.4 378 503.8 380 503.8 382.1 503.8 384.1 503.8 386.2 503.8 388.3 503.8 390.3 503.8 392.4 503.8 394.4 503.8 396.5 503.8 398.6 503.8 400.6 503.8 402.7 503.8 404.7 503.8 406.8 503.8 408.8 503.8 410.9 503.8 413 503.8 415 503.8 417.1 503.8 419.1 503.8 421.2 503.8 423.3 503.8 425.3 503.8 427.4 503.8 429.4 503.8 431.5 503.8 433.6 503.8 435.6 503.8 437.7 503.8 439.7 503.8 441.8 503.8 443.9 503.8 445.9 503.8 448 503.8 450 503.8 452.1 503.8 454.1 503.8 456.2 503.8 458.3 503.8 460.3 503.8 462.4 503.8 464.4 503.8 466.5 503.8" fill="none" stroke="#0000ff" stroke-width="0.6" marker-start="url(#m6)" marker-mid="url(#m6)" marker-end="url(#m6)"/><path d="M262.7 446.4 264.7 446.4 266.8 446.4 268.8 469.9 270.9 469.9 273 469.9 275 469.9 277.1 469.9 279.1 469.9 281.2 469.9 283.2 469.9 285.3 469.9 287.4 469.9 289.4 469.9 291.5 469.9 293.5 469.9 295.6 469.9 297.7 469.9 299.7 469.9 301.8 469.9 303.8 469.9 305.9 469.9 308 481 310 481 312.1 486.5 314.1 486.5 316.2 486.5 318.3 486.5 320.3 486.5 322.4 486.5 324.4 486.5 326.5 486.5 328.5 486.5 330.6 486.5 332.7 486.5 334.7 486.5 336.8 486.5 338.8 486.5 340.9 486.5 343 486.5 345 486.5 347.1 486.5 349.1 486.5 351.2 486.5 353.3 486.5 355.3 486.5 357.4 486.5 359.4 486.5 361.5 486.5 363.6 486.5 365.6 486.5 367.7 486.5 369.7 486.5 371.8 486.5 373.8 486.5 375.9 486.5 378 486.5 380 486.5 382.1 486.5 384.1 486.5 386.2 486.5 388.3 486.5 390.3 486.5 392.4 486.5 394.4 486.5 396.5 486.5 398.6 486.5 400.6 486.5 402.7 513.4 404.7 513.4 406.8 513.4 408.8 513.4 410.9 513.4 413 513.4 415 513.4 417.1 513.4 419.1 513.4 421.2 513.4 423.3 513.4 425.3 513.4 427.4 513.4 429.4 513.4 431.5 513.4 433.6 513.4 435.6 513.4 437.7 513.4 439.7 513.4 441.8 513.4 443.9 513.4 445.9 513.4 448 513.4 450 513.4 452.1 513.4 454.1 513.4 456.2 513.4 458.3 513.4 460.3 513.4 462.4 513.4 464.4 513.4 466.5 513.4" fill="none" stroke="#7070ff" stroke-width="0.6" marker-start="url(#m7)" marker-mid="url(#m7)" marker-end="url(#m7)"/></g>
<path d="M260.6 391.2V529.3H466.5" fill="none" stroke="#262626" stroke-width="0.5"/><path d="M260.6 529.3h1.6M260.6 515.5h1.6M260.6 501.7h1.6M260.6 487.9h1.6M260.6 474.1h1.6M260.6 460.2h1.6M260.6 446.4h1.6M260.6 432.6h1.6M260.6 418.8h1.6M260.6 405h1.6M260.6 391.2h1.6M260.6 529.3v-1.6M301.8 529.3v-1.6M343 529.3v-1.6M384.1 529.3v-1.6M425.3 529.3v-1.6M466.5 529.3v-1.6" stroke="#262626" stroke-width="0.5"/>
<g fill="#262626"><text x="258.1" y="531.6" text-anchor="end" font-size="6.3">2</text><text x="258.1" y="517.8" text-anchor="end" font-size="6.3">2.2</text><text x="258.1" y="503.9" text-anchor="end" font-size="6.3">2.4</text><text x="258.1" y="490.1" text-anchor="end" font-size="6.3">2.6</text><text x="258.1" y="476.3" text-anchor="end" font-size="6.3">2.8</text><text x="258.1" y="462.5" text-anchor="end" font-size="6.3">3</text><text x="258.1" y="448.7" text-anchor="end" font-size="6.3">3.2</text><text x="258.1" y="434.9" text-anchor="end" font-size="6.3">3.4</text><text x="258.1" y="421.1" text-anchor="end" font-size="6.3">3.6</text><text x="258.1" y="407.3" text-anchor="end" font-size="6.3">3.8</text><text x="258.1" y="393.5" text-anchor="end" font-size="6.3">4</text><text x="260.6" y="537.9" text-anchor="middle" font-size="6.3">0</text><text x="301.8" y="537.9" text-anchor="middle" font-size="6.3">20</text><text x="343" y="537.9" text-anchor="middle" font-size="6.3">40</text><text x="384.1" y="537.9" text-anchor="middle" font-size="6.3">60</text><text x="425.3" y="537.9" text-anchor="middle" font-size="6.3">80</text><text x="466.5" y="537.9" text-anchor="middle" font-size="6.3">100</text></g>
<path d="M261.8 386.7l2.4 2.4M261.8 389.1l2.4 -2.4" stroke="#262626" stroke-width="0.55" fill="none"/>
<text x="265.6" y="389.8" font-size="5.8" fill="#262626">10</text>
<text x="272.9" y="387.1" font-size="4.5" fill="#262626">5</text>
<text transform="translate(363.3 544.9) scale(1 1.0)" text-anchor="middle" font-size="6.9" fill="#262626" textLength="25.2" lengthAdjust="spacingAndGlyphs">Iteration</text>
<text transform="translate(243.5 460.3) rotate(-90)" x="0" y="2.3" text-anchor="middle" font-size="6.6" fill="#262626" textLength="32.2" lengthAdjust="spacingAndGlyphs">Best Fitness</text>
<text transform="translate(364.4 389) scale(1 1.0)" text-anchor="middle" font-size="6.9" font-weight="bold" fill="#000" textLength="63.2" lengthAdjust="spacingAndGlyphs">Dataset: vowel.mat</text>
<g><rect x="419.7" y="394.6" width="41.7" height="68.4" fill="#fff" stroke="#555" stroke-width="0.5"/><path d="M421.7 399.7H440.5" stroke="#333333" stroke-width="0.7"/><path d="M431.1 399.7h0.01" stroke="none" fill="none" marker-start="url(#m21)"/><text x="442.1" y="401.8" font-size="5.7" fill="#1a1a1a">IAS 1</text><path d="M421.7 406.4H440.5" stroke="#000000" stroke-width="0.5"/><path d="M431.1 406.4h0.01" stroke="none" fill="none" marker-start="url(#m12)"/><text x="442.1" y="408.4" font-size="5.7" fill="#1a1a1a">IAS 2</text><path d="M421.7 413H440.5" stroke="#444444" stroke-width="0.5" stroke-dasharray="0.6 1.2"/><path d="M431.1 413h0.01" stroke="none" fill="none" marker-start="url(#m9)"/><text x="442.1" y="415.1" font-size="5.7" fill="#1a1a1a">IAS 3</text><path d="M421.7 419.7H440.5" stroke="#383838" stroke-width="0.5" stroke-dasharray="0.6 1.2"/><path d="M431.1 419.7h0.01" stroke="none" fill="none" marker-start="url(#m2)"/><text x="442.1" y="421.7" font-size="5.7" fill="#1a1a1a">IAS 4</text><path d="M421.7 426.3H440.5" stroke="#ff0000" stroke-width="0.6" stroke-dasharray="0.6 1.2"/><text x="442.1" y="428.4" font-size="5.7" fill="#1a1a1a">IAS 5</text><path d="M421.7 433H440.5" stroke="#ff0000" stroke-width="0.5" stroke-dasharray="0.6 1.2"/><path d="M431.1 433h0.01" stroke="none" fill="none" marker-start="url(#m3)"/><text x="442.1" y="435.1" font-size="5.7" fill="#1a1a1a">IAS 6</text><path d="M421.7 439.7H440.5" stroke="#ff0000" stroke-width="0.5" stroke-dasharray="0.6 1.2"/><path d="M431.1 439.7h0.01" stroke="none" fill="none" marker-start="url(#m11)"/><text x="442.1" y="441.7" font-size="5.7" fill="#1a1a1a">IAS 7</text><path d="M421.7 446.3H440.5" stroke="#ff0000" stroke-width="0.6"/><path d="M431.1 446.3h0.01" stroke="none" fill="none" marker-start="url(#m5)"/><text x="442.1" y="448.4" font-size="5.7" fill="#1a1a1a">IAS 8</text><path d="M421.7 453H440.5" stroke="#0000ff" stroke-width="0.6"/><path d="M431.1 453h0.01" stroke="none" fill="none" marker-start="url(#m6)"/><text x="442.1" y="455" font-size="5.7" fill="#1a1a1a">IAS 9</text><path d="M421.7 459.6H440.5" stroke="#7070ff" stroke-width="0.6"/><path d="M431.1 459.6h0.01" stroke="none" fill="none" marker-start="url(#m7)"/><text x="442.1" y="461.7" font-size="5.7" fill="#1a1a1a">IAS 10</text></g></g>
</svg>
</body></html>
